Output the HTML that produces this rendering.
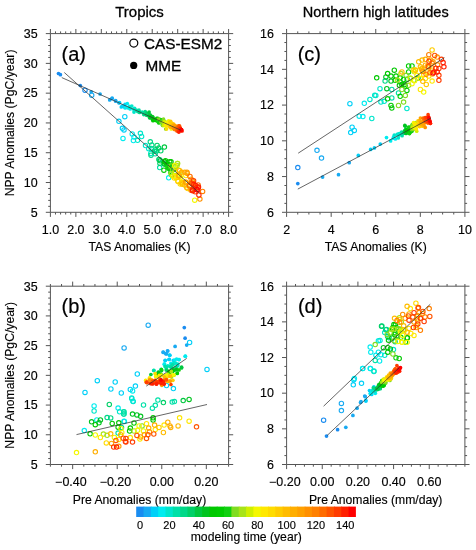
<!DOCTYPE html><html><head><meta charset="utf-8"><style>html,body{margin:0;padding:0;background:#fff;width:476px;height:550px;overflow:hidden}svg{display:block;will-change:transform}text{font-family:"Liberation Sans", sans-serif;fill:#000;stroke:#000;stroke-width:0.3px}.tk{font-size:12px;stroke-width:0.15px}.at{font-size:12.2px;stroke-width:0.15px}.ti{font-size:15px}</style></head><body>
<svg width="476" height="550" viewBox="0 0 476 550">
<path d="M50.40,33.60H228.60V212.30H50.40ZM50.40,212.30v4.6M50.40,33.60v-4.6M55.49,212.30v2.2M55.49,33.60v-2.2M60.58,212.30v2.2M60.58,33.60v-2.2M65.67,212.30v2.2M65.67,33.60v-2.2M70.77,212.30v2.2M70.77,33.60v-2.2M75.86,212.30v4.6M75.86,33.60v-4.6M80.95,212.30v2.2M80.95,33.60v-2.2M86.04,212.30v2.2M86.04,33.60v-2.2M91.13,212.30v2.2M91.13,33.60v-2.2M96.22,212.30v2.2M96.22,33.60v-2.2M101.31,212.30v4.6M101.31,33.60v-4.6M106.41,212.30v2.2M106.41,33.60v-2.2M111.50,212.30v2.2M111.50,33.60v-2.2M116.59,212.30v2.2M116.59,33.60v-2.2M121.68,212.30v2.2M121.68,33.60v-2.2M126.77,212.30v4.6M126.77,33.60v-4.6M131.86,212.30v2.2M131.86,33.60v-2.2M136.95,212.30v2.2M136.95,33.60v-2.2M142.05,212.30v2.2M142.05,33.60v-2.2M147.14,212.30v2.2M147.14,33.60v-2.2M152.23,212.30v4.6M152.23,33.60v-4.6M157.32,212.30v2.2M157.32,33.60v-2.2M162.41,212.30v2.2M162.41,33.60v-2.2M167.50,212.30v2.2M167.50,33.60v-2.2M172.59,212.30v2.2M172.59,33.60v-2.2M177.69,212.30v4.6M177.69,33.60v-4.6M182.78,212.30v2.2M182.78,33.60v-2.2M187.87,212.30v2.2M187.87,33.60v-2.2M192.96,212.30v2.2M192.96,33.60v-2.2M198.05,212.30v2.2M198.05,33.60v-2.2M203.14,212.30v4.6M203.14,33.60v-4.6M208.23,212.30v2.2M208.23,33.60v-2.2M213.33,212.30v2.2M213.33,33.60v-2.2M218.42,212.30v2.2M218.42,33.60v-2.2M223.51,212.30v2.2M223.51,33.60v-2.2M228.60,212.30v4.6M228.60,33.60v-4.6M50.40,212.30h-4.6M228.60,212.30h4.6M50.40,206.34h-2.2M228.60,206.34h2.2M50.40,200.39h-2.2M228.60,200.39h2.2M50.40,194.43h-2.2M228.60,194.43h2.2M50.40,188.47h-2.2M228.60,188.47h2.2M50.40,182.52h-4.6M228.60,182.52h4.6M50.40,176.56h-2.2M228.60,176.56h2.2M50.40,170.60h-2.2M228.60,170.60h2.2M50.40,164.65h-2.2M228.60,164.65h2.2M50.40,158.69h-2.2M228.60,158.69h2.2M50.40,152.73h-4.6M228.60,152.73h4.6M50.40,146.78h-2.2M228.60,146.78h2.2M50.40,140.82h-2.2M228.60,140.82h2.2M50.40,134.86h-2.2M228.60,134.86h2.2M50.40,128.91h-2.2M228.60,128.91h2.2M50.40,122.95h-4.6M228.60,122.95h4.6M50.40,116.99h-2.2M228.60,116.99h2.2M50.40,111.04h-2.2M228.60,111.04h2.2M50.40,105.08h-2.2M228.60,105.08h2.2M50.40,99.12h-2.2M228.60,99.12h2.2M50.40,93.17h-4.6M228.60,93.17h4.6M50.40,87.21h-2.2M228.60,87.21h2.2M50.40,81.25h-2.2M228.60,81.25h2.2M50.40,75.30h-2.2M228.60,75.30h2.2M50.40,69.34h-2.2M228.60,69.34h2.2M50.40,63.38h-4.6M228.60,63.38h4.6M50.40,57.43h-2.2M228.60,57.43h2.2M50.40,51.47h-2.2M228.60,51.47h2.2M50.40,45.51h-2.2M228.60,45.51h2.2M50.40,39.56h-2.2M228.60,39.56h2.2M50.40,33.60h-4.6M228.60,33.60h4.6" fill="none" stroke="#555" stroke-width="1"/>
<text transform="translate(50.40,234.00) scale(1.04,1)" text-anchor="middle" class="tk">1.0</text>
<text transform="translate(75.86,234.00) scale(1.04,1)" text-anchor="middle" class="tk">2.0</text>
<text transform="translate(101.31,234.00) scale(1.04,1)" text-anchor="middle" class="tk">3.0</text>
<text transform="translate(126.77,234.00) scale(1.04,1)" text-anchor="middle" class="tk">4.0</text>
<text transform="translate(152.23,234.00) scale(1.04,1)" text-anchor="middle" class="tk">5.0</text>
<text transform="translate(177.69,234.00) scale(1.04,1)" text-anchor="middle" class="tk">6.0</text>
<text transform="translate(203.14,234.00) scale(1.04,1)" text-anchor="middle" class="tk">7.0</text>
<text transform="translate(228.60,234.00) scale(1.04,1)" text-anchor="middle" class="tk">8.0</text>
<text transform="translate(37.70,216.60) scale(1.04,1)" text-anchor="end" class="tk">5</text>
<text transform="translate(37.70,186.82) scale(1.04,1)" text-anchor="end" class="tk">10</text>
<text transform="translate(37.70,157.03) scale(1.04,1)" text-anchor="end" class="tk">15</text>
<text transform="translate(37.70,127.25) scale(1.04,1)" text-anchor="end" class="tk">20</text>
<text transform="translate(37.70,97.47) scale(1.04,1)" text-anchor="end" class="tk">25</text>
<text transform="translate(37.70,67.68) scale(1.04,1)" text-anchor="end" class="tk">30</text>
<text transform="translate(37.70,37.90) scale(1.04,1)" text-anchor="end" class="tk">35</text>
<path d="M286.60,33.60H464.90V212.30H286.60ZM286.60,212.30v4.6M286.60,33.60v-4.6M297.74,212.30v2.2M297.74,33.60v-2.2M308.89,212.30v2.2M308.89,33.60v-2.2M320.03,212.30v2.2M320.03,33.60v-2.2M331.18,212.30v4.6M331.18,33.60v-4.6M342.32,212.30v2.2M342.32,33.60v-2.2M353.46,212.30v2.2M353.46,33.60v-2.2M364.61,212.30v2.2M364.61,33.60v-2.2M375.75,212.30v4.6M375.75,33.60v-4.6M386.89,212.30v2.2M386.89,33.60v-2.2M398.04,212.30v2.2M398.04,33.60v-2.2M409.18,212.30v2.2M409.18,33.60v-2.2M420.32,212.30v4.6M420.32,33.60v-4.6M431.47,212.30v2.2M431.47,33.60v-2.2M442.61,212.30v2.2M442.61,33.60v-2.2M453.76,212.30v2.2M453.76,33.60v-2.2M464.90,212.30v4.6M464.90,33.60v-4.6M286.60,212.30h-4.6M464.90,212.30h4.6M286.60,203.37h-2.2M464.90,203.37h2.2M286.60,194.43h-2.2M464.90,194.43h2.2M286.60,185.50h-2.2M464.90,185.50h2.2M286.60,176.56h-4.6M464.90,176.56h4.6M286.60,167.62h-2.2M464.90,167.62h2.2M286.60,158.69h-2.2M464.90,158.69h2.2M286.60,149.75h-2.2M464.90,149.75h2.2M286.60,140.82h-4.6M464.90,140.82h4.6M286.60,131.88h-2.2M464.90,131.88h2.2M286.60,122.95h-2.2M464.90,122.95h2.2M286.60,114.02h-2.2M464.90,114.02h2.2M286.60,105.08h-4.6M464.90,105.08h4.6M286.60,96.14h-2.2M464.90,96.14h2.2M286.60,87.21h-2.2M464.90,87.21h2.2M286.60,78.28h-2.2M464.90,78.28h2.2M286.60,69.34h-4.6M464.90,69.34h4.6M286.60,60.41h-2.2M464.90,60.41h2.2M286.60,51.47h-2.2M464.90,51.47h2.2M286.60,42.53h-2.2M464.90,42.53h2.2M286.60,33.60h-4.6M464.90,33.60h4.6" fill="none" stroke="#555" stroke-width="1"/>
<text transform="translate(286.60,234.00) scale(1.04,1)" text-anchor="middle" class="tk">2</text>
<text transform="translate(331.18,234.00) scale(1.04,1)" text-anchor="middle" class="tk">4</text>
<text transform="translate(375.75,234.00) scale(1.04,1)" text-anchor="middle" class="tk">6</text>
<text transform="translate(420.32,234.00) scale(1.04,1)" text-anchor="middle" class="tk">8</text>
<text transform="translate(464.90,234.00) scale(1.04,1)" text-anchor="middle" class="tk">10</text>
<text transform="translate(273.90,216.60) scale(1.04,1)" text-anchor="end" class="tk">6</text>
<text transform="translate(273.90,180.86) scale(1.04,1)" text-anchor="end" class="tk">8</text>
<text transform="translate(273.90,145.12) scale(1.04,1)" text-anchor="end" class="tk">10</text>
<text transform="translate(273.90,109.38) scale(1.04,1)" text-anchor="end" class="tk">12</text>
<text transform="translate(273.90,73.64) scale(1.04,1)" text-anchor="end" class="tk">14</text>
<text transform="translate(273.90,37.90) scale(1.04,1)" text-anchor="end" class="tk">16</text>
<path d="M50.40,286.20H228.60V464.50H50.40ZM50.40,464.50v2.2M50.40,286.20v-2.2M61.54,464.50v2.2M61.54,286.20v-2.2M72.67,464.50v4.6M72.67,286.20v-4.6M83.81,464.50v2.2M83.81,286.20v-2.2M94.95,464.50v2.2M94.95,286.20v-2.2M106.09,464.50v2.2M106.09,286.20v-2.2M117.22,464.50v4.6M117.22,286.20v-4.6M128.36,464.50v2.2M128.36,286.20v-2.2M139.50,464.50v2.2M139.50,286.20v-2.2M150.64,464.50v2.2M150.64,286.20v-2.2M161.78,464.50v4.6M161.78,286.20v-4.6M172.91,464.50v2.2M172.91,286.20v-2.2M184.05,464.50v2.2M184.05,286.20v-2.2M195.19,464.50v2.2M195.19,286.20v-2.2M206.32,464.50v4.6M206.32,286.20v-4.6M217.46,464.50v2.2M217.46,286.20v-2.2M228.60,464.50v2.2M228.60,286.20v-2.2M50.40,464.50h-4.6M228.60,464.50h4.6M50.40,458.56h-2.2M228.60,458.56h2.2M50.40,452.61h-2.2M228.60,452.61h2.2M50.40,446.67h-2.2M228.60,446.67h2.2M50.40,440.73h-2.2M228.60,440.73h2.2M50.40,434.78h-4.6M228.60,434.78h4.6M50.40,428.84h-2.2M228.60,428.84h2.2M50.40,422.90h-2.2M228.60,422.90h2.2M50.40,416.95h-2.2M228.60,416.95h2.2M50.40,411.01h-2.2M228.60,411.01h2.2M50.40,405.07h-4.6M228.60,405.07h4.6M50.40,399.12h-2.2M228.60,399.12h2.2M50.40,393.18h-2.2M228.60,393.18h2.2M50.40,387.24h-2.2M228.60,387.24h2.2M50.40,381.29h-2.2M228.60,381.29h2.2M50.40,375.35h-4.6M228.60,375.35h4.6M50.40,369.41h-2.2M228.60,369.41h2.2M50.40,363.46h-2.2M228.60,363.46h2.2M50.40,357.52h-2.2M228.60,357.52h2.2M50.40,351.58h-2.2M228.60,351.58h2.2M50.40,345.63h-4.6M228.60,345.63h4.6M50.40,339.69h-2.2M228.60,339.69h2.2M50.40,333.75h-2.2M228.60,333.75h2.2M50.40,327.80h-2.2M228.60,327.80h2.2M50.40,321.86h-2.2M228.60,321.86h2.2M50.40,315.92h-4.6M228.60,315.92h4.6M50.40,309.97h-2.2M228.60,309.97h2.2M50.40,304.03h-2.2M228.60,304.03h2.2M50.40,298.09h-2.2M228.60,298.09h2.2M50.40,292.14h-2.2M228.60,292.14h2.2M50.40,286.20h-4.6M228.60,286.20h4.6" fill="none" stroke="#555" stroke-width="1"/>
<text transform="translate(70.88,486.20) scale(1.04,1)" text-anchor="middle" class="tk">−0.40</text>
<text transform="translate(115.42,486.20) scale(1.04,1)" text-anchor="middle" class="tk">−0.20</text>
<text transform="translate(161.78,486.20) scale(1.04,1)" text-anchor="middle" class="tk">0.00</text>
<text transform="translate(206.32,486.20) scale(1.04,1)" text-anchor="middle" class="tk">0.20</text>
<text transform="translate(37.70,468.80) scale(1.04,1)" text-anchor="end" class="tk">5</text>
<text transform="translate(37.70,439.08) scale(1.04,1)" text-anchor="end" class="tk">10</text>
<text transform="translate(37.70,409.37) scale(1.04,1)" text-anchor="end" class="tk">15</text>
<text transform="translate(37.70,379.65) scale(1.04,1)" text-anchor="end" class="tk">20</text>
<text transform="translate(37.70,349.93) scale(1.04,1)" text-anchor="end" class="tk">25</text>
<text transform="translate(37.70,320.22) scale(1.04,1)" text-anchor="end" class="tk">30</text>
<text transform="translate(37.70,290.50) scale(1.04,1)" text-anchor="end" class="tk">35</text>
<path d="M286.60,286.20H464.90V464.50H286.60ZM286.60,464.50v4.6M286.60,286.20v-4.6M295.52,464.50v2.2M295.52,286.20v-2.2M304.43,464.50v2.2M304.43,286.20v-2.2M313.35,464.50v2.2M313.35,286.20v-2.2M322.26,464.50v4.6M322.26,286.20v-4.6M331.18,464.50v2.2M331.18,286.20v-2.2M340.09,464.50v2.2M340.09,286.20v-2.2M349.00,464.50v2.2M349.00,286.20v-2.2M357.92,464.50v4.6M357.92,286.20v-4.6M366.84,464.50v2.2M366.84,286.20v-2.2M375.75,464.50v2.2M375.75,286.20v-2.2M384.67,464.50v2.2M384.67,286.20v-2.2M393.58,464.50v4.6M393.58,286.20v-4.6M402.50,464.50v2.2M402.50,286.20v-2.2M411.41,464.50v2.2M411.41,286.20v-2.2M420.32,464.50v2.2M420.32,286.20v-2.2M429.24,464.50v4.6M429.24,286.20v-4.6M438.15,464.50v2.2M438.15,286.20v-2.2M447.07,464.50v2.2M447.07,286.20v-2.2M455.99,464.50v2.2M455.99,286.20v-2.2M464.90,464.50v2.2M464.90,286.20v-2.2M286.60,464.50h-4.6M464.90,464.50h4.6M286.60,455.58h-2.2M464.90,455.58h2.2M286.60,446.67h-2.2M464.90,446.67h2.2M286.60,437.75h-2.2M464.90,437.75h2.2M286.60,428.84h-4.6M464.90,428.84h4.6M286.60,419.93h-2.2M464.90,419.93h2.2M286.60,411.01h-2.2M464.90,411.01h2.2M286.60,402.10h-2.2M464.90,402.10h2.2M286.60,393.18h-4.6M464.90,393.18h4.6M286.60,384.26h-2.2M464.90,384.26h2.2M286.60,375.35h-2.2M464.90,375.35h2.2M286.60,366.44h-2.2M464.90,366.44h2.2M286.60,357.52h-4.6M464.90,357.52h4.6M286.60,348.61h-2.2M464.90,348.61h2.2M286.60,339.69h-2.2M464.90,339.69h2.2M286.60,330.77h-2.2M464.90,330.77h2.2M286.60,321.86h-4.6M464.90,321.86h4.6M286.60,312.94h-2.2M464.90,312.94h2.2M286.60,304.03h-2.2M464.90,304.03h2.2M286.60,295.12h-2.2M464.90,295.12h2.2M286.60,286.20h-4.6M464.90,286.20h4.6" fill="none" stroke="#555" stroke-width="1"/>
<text transform="translate(284.80,486.20) scale(1.04,1)" text-anchor="middle" class="tk">−0.20</text>
<text transform="translate(322.26,486.20) scale(1.04,1)" text-anchor="middle" class="tk">0.00</text>
<text transform="translate(357.92,486.20) scale(1.04,1)" text-anchor="middle" class="tk">0.20</text>
<text transform="translate(393.58,486.20) scale(1.04,1)" text-anchor="middle" class="tk">0.40</text>
<text transform="translate(429.24,486.20) scale(1.04,1)" text-anchor="middle" class="tk">0.60</text>
<text transform="translate(273.90,468.80) scale(1.04,1)" text-anchor="end" class="tk">6</text>
<text transform="translate(273.90,433.14) scale(1.04,1)" text-anchor="end" class="tk">8</text>
<text transform="translate(273.90,397.48) scale(1.04,1)" text-anchor="end" class="tk">10</text>
<text transform="translate(273.90,361.82) scale(1.04,1)" text-anchor="end" class="tk">12</text>
<text transform="translate(273.90,326.16) scale(1.04,1)" text-anchor="end" class="tk">14</text>
<text transform="translate(273.90,290.50) scale(1.04,1)" text-anchor="end" class="tk">16</text>
<g fill="none" stroke-width="1.1"><circle cx="85.0" cy="90.2" r="2.2" stroke="#1a8cf0"/><circle cx="91.7" cy="95.2" r="2.2" stroke="#18aaf2"/><circle cx="118.9" cy="121.3" r="2.2" stroke="#00d0f8"/><circle cx="124.8" cy="116.7" r="2.2" stroke="#00d0f8"/><circle cx="122.4" cy="128.3" r="2.2" stroke="#00d0f8"/><circle cx="124.0" cy="129.9" r="2.2" stroke="#00d0f8"/><circle cx="123.0" cy="138.4" r="2.2" stroke="#00ecf0"/><circle cx="132.2" cy="134.0" r="2.2" stroke="#00ecf0"/><circle cx="168.7" cy="177.8" r="2.2" stroke="#00ecf0"/><circle cx="134.0" cy="137.1" r="2.2" stroke="#00ecf0"/><circle cx="133.4" cy="140.5" r="2.2" stroke="#00ecf0"/><circle cx="137.6" cy="140.3" r="2.2" stroke="#00e6cc"/><circle cx="140.4" cy="133.3" r="2.2" stroke="#00e6cc"/><circle cx="141.6" cy="136.5" r="2.2" stroke="#00e6cc"/><circle cx="148.7" cy="148.7" r="2.2" stroke="#00e6cc"/><circle cx="150.8" cy="153.4" r="2.2" stroke="#00e6cc"/><circle cx="145.5" cy="145.6" r="2.2" stroke="#00e6cc"/><circle cx="151.2" cy="148.6" r="2.2" stroke="#00e0a8"/><circle cx="159.7" cy="159.7" r="2.2" stroke="#00e0a8"/><circle cx="159.7" cy="167.6" r="2.2" stroke="#00e0a8"/><circle cx="155.2" cy="153.8" r="2.2" stroke="#00e0a8"/><circle cx="151.0" cy="155.2" r="2.2" stroke="#00d888"/><circle cx="150.3" cy="141.8" r="2.2" stroke="#00d888"/><circle cx="151.8" cy="145.0" r="2.2" stroke="#00d888"/><circle cx="155.5" cy="149.7" r="2.2" stroke="#00d888"/><circle cx="156.6" cy="151.1" r="2.2" stroke="#00d888"/><circle cx="154.4" cy="151.3" r="2.2" stroke="#00d888"/><circle cx="158.9" cy="159.4" r="2.2" stroke="#00d068"/><circle cx="157.1" cy="145.5" r="2.2" stroke="#00d068"/><circle cx="158.7" cy="148.1" r="2.2" stroke="#00d068"/><circle cx="160.8" cy="150.8" r="2.2" stroke="#00d068"/><circle cx="159.9" cy="163.2" r="2.2" stroke="#00d068"/><circle cx="164.3" cy="163.7" r="2.2" stroke="#00c840"/><circle cx="164.4" cy="147.1" r="2.2" stroke="#00c840"/><circle cx="164.5" cy="164.0" r="2.2" stroke="#00c840"/><circle cx="160.3" cy="160.8" r="2.2" stroke="#00c840"/><circle cx="164.5" cy="161.4" r="2.2" stroke="#00c420"/><circle cx="169.2" cy="168.5" r="2.2" stroke="#00c420"/><circle cx="164.9" cy="162.2" r="2.2" stroke="#00c800"/><circle cx="165.5" cy="160.7" r="2.2" stroke="#00c800"/><circle cx="167.1" cy="165.5" r="2.2" stroke="#00c800"/><circle cx="171.0" cy="161.8" r="2.2" stroke="#00c800"/><circle cx="173.6" cy="169.4" r="2.2" stroke="#00c800"/><circle cx="168.9" cy="167.8" r="2.2" stroke="#00c800"/><circle cx="169.1" cy="168.0" r="2.2" stroke="#00cc00"/><circle cx="169.7" cy="161.8" r="2.2" stroke="#00cc00"/><circle cx="163.9" cy="170.2" r="2.2" stroke="#00cc00"/><circle cx="172.1" cy="175.0" r="2.2" stroke="#00cc00"/><circle cx="175.3" cy="176.0" r="2.2" stroke="#00cc00"/><circle cx="168.9" cy="164.6" r="2.2" stroke="#00cc00"/><circle cx="170.4" cy="166.2" r="2.2" stroke="#10d010"/><circle cx="170.7" cy="167.6" r="2.2" stroke="#10d010"/><circle cx="170.9" cy="172.4" r="2.2" stroke="#10d010"/><circle cx="168.7" cy="167.4" r="2.2" stroke="#10d010"/><circle cx="171.1" cy="165.9" r="2.2" stroke="#80dc20"/><circle cx="172.7" cy="169.7" r="2.2" stroke="#80dc20"/><circle cx="177.0" cy="165.4" r="2.2" stroke="#a8e418"/><circle cx="177.6" cy="163.4" r="2.2" stroke="#a8e418"/><circle cx="175.5" cy="166.5" r="2.2" stroke="#a8e418"/><circle cx="177.4" cy="163.4" r="2.2" stroke="#a8e418"/><circle cx="179.1" cy="174.3" r="2.2" stroke="#a8e418"/><circle cx="171.2" cy="174.1" r="2.2" stroke="#a8e418"/><circle cx="175.2" cy="171.4" r="2.2" stroke="#d0f000"/><circle cx="176.1" cy="177.7" r="2.2" stroke="#d0f000"/><circle cx="172.8" cy="176.0" r="2.2" stroke="#f4f800"/><circle cx="174.7" cy="165.5" r="2.2" stroke="#f4f800"/><circle cx="180.5" cy="177.6" r="2.2" stroke="#f4f800"/><circle cx="194.7" cy="200.2" r="2.2" stroke="#f4f800"/><circle cx="179.7" cy="176.3" r="2.2" stroke="#f4f800"/><circle cx="181.9" cy="182.4" r="2.2" stroke="#f4f800"/><circle cx="174.6" cy="176.4" r="2.2" stroke="#ffe800"/><circle cx="185.8" cy="175.5" r="2.2" stroke="#ffe800"/><circle cx="187.9" cy="188.6" r="2.2" stroke="#ffe800"/><circle cx="177.8" cy="180.8" r="2.2" stroke="#ffe800"/><circle cx="174.3" cy="178.0" r="2.2" stroke="#ffdc00"/><circle cx="182.6" cy="182.3" r="2.2" stroke="#ffdc00"/><circle cx="181.5" cy="183.3" r="2.2" stroke="#ffdc00"/><circle cx="180.3" cy="184.1" r="2.2" stroke="#ffdc00"/><circle cx="183.0" cy="182.9" r="2.2" stroke="#ffcc00"/><circle cx="178.0" cy="181.4" r="2.2" stroke="#ffcc00"/><circle cx="184.6" cy="184.9" r="2.2" stroke="#ffbc00"/><circle cx="178.9" cy="170.2" r="2.2" stroke="#ffbc00"/><circle cx="179.7" cy="170.7" r="2.2" stroke="#ffbc00"/><circle cx="182.4" cy="184.2" r="2.2" stroke="#ffbc00"/><circle cx="178.5" cy="175.5" r="2.2" stroke="#ffbc00"/><circle cx="179.3" cy="176.0" r="2.2" stroke="#ffae00"/><circle cx="181.6" cy="172.3" r="2.2" stroke="#ffae00"/><circle cx="184.7" cy="172.3" r="2.2" stroke="#ffae00"/><circle cx="186.3" cy="182.8" r="2.2" stroke="#ffae00"/><circle cx="186.8" cy="187.7" r="2.2" stroke="#ffae00"/><circle cx="185.6" cy="182.1" r="2.2" stroke="#ffa000"/><circle cx="187.3" cy="173.4" r="2.2" stroke="#ffa000"/><circle cx="189.4" cy="186.5" r="2.2" stroke="#ffa000"/><circle cx="191.0" cy="190.2" r="2.2" stroke="#ffa000"/><circle cx="187.0" cy="172.3" r="2.2" stroke="#ffa000"/><circle cx="191.2" cy="179.2" r="2.2" stroke="#ffa000"/><circle cx="192.3" cy="183.4" r="2.2" stroke="#ffa000"/><circle cx="192.5" cy="180.9" r="2.2" stroke="#ff9000"/><circle cx="199.9" cy="199.1" r="2.2" stroke="#ff9000"/><circle cx="191.3" cy="182.8" r="2.2" stroke="#ff9000"/><circle cx="195.1" cy="186.8" r="2.2" stroke="#ff8000"/><circle cx="202.6" cy="191.4" r="2.2" stroke="#ff8000"/><circle cx="192.7" cy="183.7" r="2.2" stroke="#ff8000"/><circle cx="189.5" cy="185.5" r="2.2" stroke="#ff6c00"/><circle cx="190.0" cy="176.5" r="2.2" stroke="#ff6c00"/><circle cx="198.1" cy="184.9" r="2.2" stroke="#ff6c00"/><circle cx="193.7" cy="188.2" r="2.2" stroke="#ff5400"/><circle cx="191.7" cy="183.4" r="2.2" stroke="#ff5400"/><circle cx="192.0" cy="190.2" r="2.2" stroke="#ff5400"/><circle cx="198.2" cy="187.6" r="2.2" stroke="#ff3c00"/><circle cx="193.6" cy="180.7" r="2.2" stroke="#ff3c00"/><circle cx="195.2" cy="191.8" r="2.2" stroke="#ff3c00"/><circle cx="192.6" cy="189.4" r="2.2" stroke="#ff3c00"/><circle cx="192.7" cy="190.7" r="2.2" stroke="#ff2000"/><circle cx="195.7" cy="185.5" r="2.2" stroke="#ff2000"/><circle cx="197.8" cy="189.7" r="2.2" stroke="#ff2000"/><circle cx="198.9" cy="195.0" r="2.2" stroke="#ff2000"/><circle cx="193.9" cy="184.3" r="2.2" stroke="#ff2000"/><circle cx="198.5" cy="186.9" r="2.2" stroke="#ff2000"/><circle cx="196.9" cy="189.7" r="2.2" stroke="#ff0000"/></g>
<g><circle cx="58.5" cy="73.5" r="1.85" fill="#1a8cf0"/><circle cx="60.4" cy="74.7" r="1.85" fill="#1a8cf0"/><circle cx="80.3" cy="85.5" r="1.85" fill="#1a8cf0"/><circle cx="91.2" cy="91.8" r="1.85" fill="#18aaf2"/><circle cx="100.1" cy="94.0" r="1.85" fill="#18aaf2"/><circle cx="109.7" cy="99.9" r="1.85" fill="#18aaf2"/><circle cx="112.2" cy="98.2" r="1.85" fill="#18aaf2"/><circle cx="111.9" cy="98.6" r="1.85" fill="#18aaf2"/><circle cx="115.5" cy="101.1" r="1.85" fill="#18aaf2"/><circle cx="115.7" cy="100.7" r="1.85" fill="#18aaf2"/><circle cx="118.9" cy="102.8" r="1.85" fill="#18aaf2"/><circle cx="119.5" cy="102.6" r="1.85" fill="#00d0f8"/><circle cx="122.3" cy="106.1" r="1.85" fill="#00d0f8"/><circle cx="121.3" cy="107.0" r="1.85" fill="#00d0f8"/><circle cx="124.8" cy="107.0" r="1.85" fill="#00d0f8"/><circle cx="124.9" cy="107.0" r="1.85" fill="#00d0f8"/><circle cx="125.0" cy="104.4" r="1.85" fill="#00d0f8"/><circle cx="125.2" cy="108.0" r="1.85" fill="#00ecf0"/><circle cx="127.3" cy="103.6" r="1.85" fill="#00ecf0"/><circle cx="129.5" cy="106.4" r="1.85" fill="#00ecf0"/><circle cx="130.2" cy="108.9" r="1.85" fill="#00ecf0"/><circle cx="128.2" cy="108.0" r="1.85" fill="#00ecf0"/><circle cx="129.9" cy="107.1" r="1.85" fill="#00e6cc"/><circle cx="134.6" cy="108.3" r="1.85" fill="#00e6cc"/><circle cx="134.0" cy="112.1" r="1.85" fill="#00e6cc"/><circle cx="131.8" cy="106.1" r="1.85" fill="#00e6cc"/><circle cx="133.8" cy="109.3" r="1.85" fill="#00e6cc"/><circle cx="137.7" cy="111.6" r="1.85" fill="#00e0a8"/><circle cx="139.0" cy="110.2" r="1.85" fill="#00e0a8"/><circle cx="142.2" cy="112.1" r="1.85" fill="#00e0a8"/><circle cx="136.8" cy="110.4" r="1.85" fill="#00e0a8"/><circle cx="139.6" cy="112.4" r="1.85" fill="#00d888"/><circle cx="144.7" cy="113.3" r="1.85" fill="#00d888"/><circle cx="145.2" cy="111.6" r="1.85" fill="#00d888"/><circle cx="143.8" cy="114.6" r="1.85" fill="#00d888"/><circle cx="146.8" cy="113.4" r="1.85" fill="#00d068"/><circle cx="146.6" cy="115.2" r="1.85" fill="#00d068"/><circle cx="149.0" cy="115.0" r="1.85" fill="#00d068"/><circle cx="147.5" cy="115.5" r="1.85" fill="#00d068"/><circle cx="149.0" cy="114.8" r="1.85" fill="#00d068"/><circle cx="149.3" cy="116.0" r="1.85" fill="#00c840"/><circle cx="149.6" cy="117.8" r="1.85" fill="#00c840"/><circle cx="149.1" cy="112.1" r="1.85" fill="#00c840"/><circle cx="150.4" cy="115.2" r="1.85" fill="#00c840"/><circle cx="149.6" cy="115.3" r="1.85" fill="#00c840"/><circle cx="150.3" cy="117.4" r="1.85" fill="#00c840"/><circle cx="152.5" cy="117.1" r="1.85" fill="#00c840"/><circle cx="151.0" cy="117.7" r="1.85" fill="#00c420"/><circle cx="151.3" cy="117.4" r="1.85" fill="#00c420"/><circle cx="152.9" cy="117.1" r="1.85" fill="#00c420"/><circle cx="154.1" cy="119.6" r="1.85" fill="#00c420"/><circle cx="152.1" cy="116.6" r="1.85" fill="#00c420"/><circle cx="150.8" cy="116.4" r="1.85" fill="#00c420"/><circle cx="152.5" cy="119.8" r="1.85" fill="#00c420"/><circle cx="153.8" cy="119.8" r="1.85" fill="#00c800"/><circle cx="154.2" cy="119.4" r="1.85" fill="#00c800"/><circle cx="156.7" cy="118.4" r="1.85" fill="#00c800"/><circle cx="153.8" cy="119.4" r="1.85" fill="#00c800"/><circle cx="157.1" cy="119.3" r="1.85" fill="#00c800"/><circle cx="153.0" cy="120.7" r="1.85" fill="#00c800"/><circle cx="155.3" cy="120.3" r="1.85" fill="#00cc00"/><circle cx="157.8" cy="118.4" r="1.85" fill="#00cc00"/><circle cx="158.5" cy="120.9" r="1.85" fill="#00cc00"/><circle cx="160.4" cy="119.6" r="1.85" fill="#00cc00"/><circle cx="158.9" cy="123.0" r="1.85" fill="#00cc00"/><circle cx="156.8" cy="120.7" r="1.85" fill="#00cc00"/><circle cx="158.1" cy="118.9" r="1.85" fill="#00cc00"/><circle cx="157.6" cy="120.5" r="1.85" fill="#10d010"/><circle cx="159.7" cy="121.9" r="1.85" fill="#10d010"/><circle cx="161.7" cy="122.8" r="1.85" fill="#10d010"/><circle cx="160.6" cy="119.5" r="1.85" fill="#10d010"/><circle cx="162.5" cy="125.2" r="1.85" fill="#10d010"/><circle cx="158.4" cy="122.2" r="1.85" fill="#10d010"/><circle cx="158.0" cy="121.3" r="1.85" fill="#10d010"/><circle cx="161.7" cy="121.3" r="1.85" fill="#10d010"/><circle cx="158.5" cy="119.1" r="1.85" fill="#80dc20"/><circle cx="161.0" cy="122.2" r="1.85" fill="#80dc20"/><circle cx="165.7" cy="129.0" r="1.85" fill="#80dc20"/><circle cx="164.2" cy="121.4" r="1.85" fill="#80dc20"/><circle cx="161.7" cy="122.7" r="1.85" fill="#80dc20"/><circle cx="163.5" cy="119.2" r="1.85" fill="#80dc20"/><circle cx="162.9" cy="125.6" r="1.85" fill="#a8e418"/><circle cx="165.4" cy="122.1" r="1.85" fill="#a8e418"/><circle cx="165.0" cy="122.0" r="1.85" fill="#a8e418"/><circle cx="163.3" cy="122.8" r="1.85" fill="#a8e418"/><circle cx="167.4" cy="125.2" r="1.85" fill="#a8e418"/><circle cx="163.9" cy="125.0" r="1.85" fill="#a8e418"/><circle cx="163.8" cy="125.3" r="1.85" fill="#d0f000"/><circle cx="164.5" cy="122.3" r="1.85" fill="#d0f000"/><circle cx="165.5" cy="122.2" r="1.85" fill="#d0f000"/><circle cx="165.7" cy="125.6" r="1.85" fill="#d0f000"/><circle cx="166.5" cy="124.3" r="1.85" fill="#d0f000"/><circle cx="164.0" cy="121.8" r="1.85" fill="#d0f000"/><circle cx="165.8" cy="122.8" r="1.85" fill="#f4f800"/><circle cx="167.7" cy="123.9" r="1.85" fill="#f4f800"/><circle cx="167.4" cy="124.0" r="1.85" fill="#f4f800"/><circle cx="168.6" cy="120.9" r="1.85" fill="#f4f800"/><circle cx="171.3" cy="129.0" r="1.85" fill="#f4f800"/><circle cx="168.0" cy="124.7" r="1.85" fill="#f4f800"/><circle cx="166.8" cy="124.2" r="1.85" fill="#f4f800"/><circle cx="167.7" cy="125.6" r="1.85" fill="#f4f800"/><circle cx="167.4" cy="123.9" r="1.85" fill="#ffe800"/><circle cx="165.5" cy="125.7" r="1.85" fill="#ffe800"/><circle cx="168.8" cy="122.0" r="1.85" fill="#ffe800"/><circle cx="170.6" cy="125.4" r="1.85" fill="#ffe800"/><circle cx="168.8" cy="123.1" r="1.85" fill="#ffe800"/><circle cx="169.2" cy="125.4" r="1.85" fill="#ffe800"/><circle cx="172.3" cy="126.8" r="1.85" fill="#ffdc00"/><circle cx="169.9" cy="121.9" r="1.85" fill="#ffdc00"/><circle cx="171.8" cy="126.5" r="1.85" fill="#ffdc00"/><circle cx="168.0" cy="124.8" r="1.85" fill="#ffdc00"/><circle cx="166.6" cy="128.9" r="1.85" fill="#ffdc00"/><circle cx="172.1" cy="127.2" r="1.85" fill="#ffcc00"/><circle cx="172.1" cy="123.3" r="1.85" fill="#ffcc00"/><circle cx="170.7" cy="121.4" r="1.85" fill="#ffcc00"/><circle cx="172.1" cy="124.2" r="1.85" fill="#ffcc00"/><circle cx="173.7" cy="124.0" r="1.85" fill="#ffcc00"/><circle cx="170.2" cy="127.3" r="1.85" fill="#ffcc00"/><circle cx="175.3" cy="126.1" r="1.85" fill="#ffbc00"/><circle cx="170.1" cy="126.7" r="1.85" fill="#ffbc00"/><circle cx="174.7" cy="126.1" r="1.85" fill="#ffbc00"/><circle cx="172.6" cy="125.6" r="1.85" fill="#ffbc00"/><circle cx="172.1" cy="125.4" r="1.85" fill="#ffbc00"/><circle cx="175.0" cy="128.6" r="1.85" fill="#ffae00"/><circle cx="176.7" cy="128.3" r="1.85" fill="#ffae00"/><circle cx="175.1" cy="125.8" r="1.85" fill="#ffae00"/><circle cx="174.3" cy="125.9" r="1.85" fill="#ffae00"/><circle cx="174.7" cy="125.6" r="1.85" fill="#ffae00"/><circle cx="171.6" cy="127.1" r="1.85" fill="#ffae00"/><circle cx="176.1" cy="129.3" r="1.85" fill="#ffa000"/><circle cx="176.5" cy="128.7" r="1.85" fill="#ffa000"/><circle cx="176.4" cy="129.6" r="1.85" fill="#ffa000"/><circle cx="174.0" cy="127.3" r="1.85" fill="#ffa000"/><circle cx="175.3" cy="126.2" r="1.85" fill="#ffa000"/><circle cx="173.9" cy="125.0" r="1.85" fill="#ffa000"/><circle cx="175.5" cy="128.1" r="1.85" fill="#ff9000"/><circle cx="174.4" cy="129.4" r="1.85" fill="#ff9000"/><circle cx="175.9" cy="128.9" r="1.85" fill="#ff9000"/><circle cx="178.3" cy="127.9" r="1.85" fill="#ff9000"/><circle cx="173.3" cy="128.0" r="1.85" fill="#ff9000"/><circle cx="175.0" cy="129.5" r="1.85" fill="#ff8000"/><circle cx="176.7" cy="129.8" r="1.85" fill="#ff8000"/><circle cx="179.1" cy="126.5" r="1.85" fill="#ff8000"/><circle cx="178.5" cy="128.2" r="1.85" fill="#ff8000"/><circle cx="176.6" cy="127.7" r="1.85" fill="#ff8000"/><circle cx="178.2" cy="130.3" r="1.85" fill="#ff6c00"/><circle cx="180.1" cy="127.5" r="1.85" fill="#ff6c00"/><circle cx="178.4" cy="125.8" r="1.85" fill="#ff6c00"/><circle cx="177.7" cy="129.7" r="1.85" fill="#ff6c00"/><circle cx="177.2" cy="129.0" r="1.85" fill="#ff6c00"/><circle cx="178.4" cy="130.6" r="1.85" fill="#ff5400"/><circle cx="178.1" cy="127.8" r="1.85" fill="#ff5400"/><circle cx="179.5" cy="125.8" r="1.85" fill="#ff5400"/><circle cx="177.0" cy="131.0" r="1.85" fill="#ff5400"/><circle cx="180.8" cy="130.0" r="1.85" fill="#ff5400"/><circle cx="179.6" cy="129.9" r="1.85" fill="#ff5400"/><circle cx="180.0" cy="129.5" r="1.85" fill="#ff3c00"/><circle cx="180.0" cy="128.1" r="1.85" fill="#ff3c00"/><circle cx="180.2" cy="130.2" r="1.85" fill="#ff3c00"/><circle cx="178.3" cy="131.4" r="1.85" fill="#ff3c00"/><circle cx="180.9" cy="130.3" r="1.85" fill="#ff3c00"/><circle cx="180.1" cy="130.0" r="1.85" fill="#ff3c00"/><circle cx="181.4" cy="129.6" r="1.85" fill="#ff2000"/><circle cx="180.9" cy="130.6" r="1.85" fill="#ff2000"/><circle cx="182.1" cy="130.9" r="1.85" fill="#ff2000"/><circle cx="178.9" cy="132.1" r="1.85" fill="#ff2000"/><circle cx="180.4" cy="128.9" r="1.85" fill="#ff2000"/><circle cx="180.4" cy="128.5" r="1.85" fill="#ff2000"/><circle cx="181.6" cy="129.7" r="1.85" fill="#ff0000"/><circle cx="180.9" cy="130.4" r="1.85" fill="#ff0000"/></g>
<line x1="64.3" y1="72.5" x2="199.7" y2="193.3" stroke="#333" stroke-width="0.75"/>
<line x1="61.8" y1="77.6" x2="180.8" y2="130.2" stroke="#333" stroke-width="0.75"/>
<g fill="none" stroke-width="1.1"><circle cx="297.8" cy="167.6" r="2.2" stroke="#1a8cf0"/><circle cx="317.0" cy="150.3" r="2.2" stroke="#18aaf2"/><circle cx="321.5" cy="158.1" r="2.2" stroke="#18aaf2"/><circle cx="349.9" cy="103.7" r="2.2" stroke="#00d0f8"/><circle cx="352.1" cy="127.2" r="2.2" stroke="#00d0f8"/><circle cx="354.3" cy="130.4" r="2.2" stroke="#00d0f8"/><circle cx="350.7" cy="132.6" r="2.2" stroke="#00d0f8"/><circle cx="359.2" cy="116.2" r="2.2" stroke="#00ecf0"/><circle cx="362.9" cy="116.6" r="2.2" stroke="#00ecf0"/><circle cx="364.3" cy="103.3" r="2.2" stroke="#00ecf0"/><circle cx="369.9" cy="99.4" r="2.2" stroke="#00e6cc"/><circle cx="374.7" cy="95.3" r="2.2" stroke="#00e6cc"/><circle cx="380.0" cy="88.7" r="2.2" stroke="#00e6cc"/><circle cx="380.9" cy="102.1" r="2.2" stroke="#00e6cc"/><circle cx="384.2" cy="101.3" r="2.2" stroke="#00e6cc"/><circle cx="406.9" cy="108.5" r="2.2" stroke="#00e6cc"/><circle cx="375.8" cy="95.4" r="2.2" stroke="#00e6cc"/><circle cx="371.8" cy="118.5" r="2.2" stroke="#00e6cc"/><circle cx="398.5" cy="92.9" r="2.2" stroke="#00e0a8"/><circle cx="391.8" cy="89.5" r="2.2" stroke="#00e0a8"/><circle cx="391.8" cy="97.9" r="2.2" stroke="#00e0a8"/><circle cx="385.1" cy="81.1" r="2.2" stroke="#00d888"/><circle cx="385.9" cy="76.9" r="2.2" stroke="#00c420"/><circle cx="391.0" cy="81.1" r="2.2" stroke="#00c420"/><circle cx="386.8" cy="88.7" r="2.2" stroke="#00c420"/><circle cx="394.3" cy="70.2" r="2.2" stroke="#00c800"/><circle cx="387.6" cy="73.6" r="2.2" stroke="#00c800"/><circle cx="391.0" cy="76.1" r="2.2" stroke="#00c800"/><circle cx="396.0" cy="76.1" r="2.2" stroke="#00c800"/><circle cx="395.2" cy="80.3" r="2.2" stroke="#00c800"/><circle cx="400.2" cy="77.8" r="2.2" stroke="#00c800"/><circle cx="399.4" cy="85.3" r="2.2" stroke="#00c800"/><circle cx="376.7" cy="77.8" r="2.2" stroke="#00c800"/><circle cx="387.6" cy="98.8" r="2.2" stroke="#00c800"/><circle cx="391.0" cy="105.5" r="2.2" stroke="#00c800"/><circle cx="391.8" cy="108.0" r="2.2" stroke="#00c800"/><circle cx="401.8" cy="84.6" r="2.2" stroke="#00c800"/><circle cx="418.0" cy="78.1" r="2.2" stroke="#00cc00"/><circle cx="408.6" cy="66.0" r="2.2" stroke="#00cc00"/><circle cx="412.0" cy="66.0" r="2.2" stroke="#00cc00"/><circle cx="403.6" cy="79.5" r="2.2" stroke="#00cc00"/><circle cx="408.6" cy="71.9" r="2.2" stroke="#00cc00"/><circle cx="404.4" cy="84.5" r="2.2" stroke="#00cc00"/><circle cx="406.9" cy="90.4" r="2.2" stroke="#00cc00"/><circle cx="400.2" cy="96.3" r="2.2" stroke="#00cc00"/><circle cx="405.1" cy="86.1" r="2.2" stroke="#00cc00"/><circle cx="400.2" cy="82.0" r="2.2" stroke="#10d010"/><circle cx="407.1" cy="79.2" r="2.2" stroke="#10d010"/><circle cx="406.1" cy="75.3" r="2.2" stroke="#80dc20"/><circle cx="408.6" cy="85.3" r="2.2" stroke="#80dc20"/><circle cx="401.9" cy="89.5" r="2.2" stroke="#80dc20"/><circle cx="405.3" cy="95.4" r="2.2" stroke="#80dc20"/><circle cx="398.5" cy="105.5" r="2.2" stroke="#80dc20"/><circle cx="403.6" cy="102.1" r="2.2" stroke="#80dc20"/><circle cx="410.4" cy="78.5" r="2.2" stroke="#80dc20"/><circle cx="397.4" cy="80.1" r="2.2" stroke="#a8e418"/><circle cx="413.7" cy="80.3" r="2.2" stroke="#a8e418"/><circle cx="400.9" cy="73.6" r="2.2" stroke="#a8e418"/><circle cx="410.4" cy="78.0" r="2.2" stroke="#d0f000"/><circle cx="414.4" cy="71.8" r="2.2" stroke="#d0f000"/><circle cx="423.7" cy="92.1" r="2.2" stroke="#f4f800"/><circle cx="412.0" cy="83.7" r="2.2" stroke="#f4f800"/><circle cx="414.6" cy="80.7" r="2.2" stroke="#f4f800"/><circle cx="415.5" cy="70.1" r="2.2" stroke="#ffe800"/><circle cx="432.1" cy="81.1" r="2.2" stroke="#ffe800"/><circle cx="423.7" cy="74.4" r="2.2" stroke="#ffe800"/><circle cx="425.4" cy="78.6" r="2.2" stroke="#ffe800"/><circle cx="420.4" cy="78.6" r="2.2" stroke="#ffe800"/><circle cx="417.0" cy="75.3" r="2.2" stroke="#ffe800"/><circle cx="420.4" cy="89.5" r="2.2" stroke="#ffe800"/><circle cx="421.3" cy="68.8" r="2.2" stroke="#ffe800"/><circle cx="422.0" cy="70.4" r="2.2" stroke="#ffdc00"/><circle cx="427.1" cy="71.9" r="2.2" stroke="#ffdc00"/><circle cx="428.8" cy="76.1" r="2.2" stroke="#ffdc00"/><circle cx="413.4" cy="70.1" r="2.2" stroke="#ffdc00"/><circle cx="432.1" cy="50.0" r="2.2" stroke="#ffcc00"/><circle cx="432.1" cy="70.2" r="2.2" stroke="#ffcc00"/><circle cx="426.3" cy="84.4" r="2.2" stroke="#ffcc00"/><circle cx="422.8" cy="81.3" r="2.2" stroke="#ffbc00"/><circle cx="422.1" cy="60.1" r="2.2" stroke="#ffbc00"/><circle cx="418.7" cy="61.8" r="2.2" stroke="#ffbc00"/><circle cx="420.4" cy="66.8" r="2.2" stroke="#ffbc00"/><circle cx="415.3" cy="70.2" r="2.2" stroke="#ffbc00"/><circle cx="401.9" cy="71.9" r="2.2" stroke="#ffbc00"/><circle cx="427.1" cy="66.5" r="2.2" stroke="#ffbc00"/><circle cx="432.5" cy="74.1" r="2.2" stroke="#ffae00"/><circle cx="430.5" cy="60.1" r="2.2" stroke="#ffae00"/><circle cx="425.4" cy="59.3" r="2.2" stroke="#ffae00"/><circle cx="425.4" cy="65.2" r="2.2" stroke="#ffae00"/><circle cx="422.0" cy="69.0" r="2.2" stroke="#ffae00"/><circle cx="437.2" cy="57.1" r="2.2" stroke="#ffa000"/><circle cx="433.0" cy="61.8" r="2.2" stroke="#ffa000"/><circle cx="428.8" cy="66.8" r="2.2" stroke="#ffa000"/><circle cx="431.9" cy="68.0" r="2.2" stroke="#ffa000"/><circle cx="437.6" cy="64.8" r="2.2" stroke="#ff9000"/><circle cx="422.9" cy="71.4" r="2.2" stroke="#ff9000"/><circle cx="426.1" cy="74.3" r="2.2" stroke="#ff8000"/><circle cx="428.8" cy="54.7" r="2.2" stroke="#ff8000"/><circle cx="432.1" cy="63.1" r="2.2" stroke="#ff8000"/><circle cx="429.9" cy="72.7" r="2.2" stroke="#ff6c00"/><circle cx="434.2" cy="72.0" r="2.2" stroke="#ff5400"/><circle cx="434.7" cy="55.4" r="2.2" stroke="#ff5400"/><circle cx="428.3" cy="66.5" r="2.2" stroke="#ff5400"/><circle cx="429.0" cy="61.2" r="2.2" stroke="#ff3c00"/><circle cx="441.4" cy="59.3" r="2.2" stroke="#ff3c00"/><circle cx="438.9" cy="68.5" r="2.2" stroke="#ff3c00"/><circle cx="438.9" cy="75.3" r="2.2" stroke="#ff3c00"/><circle cx="438.9" cy="80.3" r="2.2" stroke="#ff3c00"/><circle cx="443.1" cy="62.6" r="2.2" stroke="#ff2000"/><circle cx="443.9" cy="66.8" r="2.2" stroke="#ff2000"/><circle cx="437.2" cy="71.9" r="2.2" stroke="#ff2000"/><circle cx="435.9" cy="68.2" r="2.2" stroke="#ff2000"/><circle cx="433.1" cy="72.9" r="2.2" stroke="#ff0000"/></g>
<g><circle cx="297.8" cy="183.6" r="1.85" fill="#1a8cf0"/><circle cx="322.6" cy="177.1" r="1.85" fill="#18aaf2"/><circle cx="338.5" cy="174.7" r="1.85" fill="#18aaf2"/><circle cx="349.2" cy="162.7" r="1.85" fill="#18aaf2"/><circle cx="358.3" cy="155.4" r="1.85" fill="#00d0f8"/><circle cx="370.7" cy="149.4" r="1.85" fill="#00d0f8"/><circle cx="374.4" cy="147.9" r="1.85" fill="#00d0f8"/><circle cx="380.3" cy="144.1" r="1.85" fill="#00d0f8"/><circle cx="386.5" cy="137.6" r="1.85" fill="#00ecf0"/><circle cx="390.6" cy="140.9" r="1.85" fill="#00ecf0"/><circle cx="393.2" cy="138.2" r="1.85" fill="#00ecf0"/><circle cx="395.4" cy="138.9" r="1.85" fill="#00ecf0"/><circle cx="393.7" cy="136.8" r="1.85" fill="#00ecf0"/><circle cx="394.3" cy="135.0" r="1.85" fill="#00e6cc"/><circle cx="398.3" cy="137.9" r="1.85" fill="#00e6cc"/><circle cx="398.3" cy="134.0" r="1.85" fill="#00e6cc"/><circle cx="397.2" cy="134.3" r="1.85" fill="#00e6cc"/><circle cx="399.0" cy="135.1" r="1.85" fill="#00e6cc"/><circle cx="402.1" cy="133.5" r="1.85" fill="#00e6cc"/><circle cx="399.4" cy="133.5" r="1.85" fill="#00e6cc"/><circle cx="401.1" cy="133.8" r="1.85" fill="#00e6cc"/><circle cx="402.3" cy="132.5" r="1.85" fill="#00e0a8"/><circle cx="401.6" cy="132.1" r="1.85" fill="#00e0a8"/><circle cx="403.4" cy="133.2" r="1.85" fill="#00e0a8"/><circle cx="402.1" cy="135.7" r="1.85" fill="#00e0a8"/><circle cx="406.2" cy="131.3" r="1.85" fill="#00e0a8"/><circle cx="404.9" cy="130.7" r="1.85" fill="#00e0a8"/><circle cx="405.7" cy="131.9" r="1.85" fill="#00e0a8"/><circle cx="403.9" cy="132.5" r="1.85" fill="#00d888"/><circle cx="405.9" cy="131.1" r="1.85" fill="#00d888"/><circle cx="407.2" cy="132.8" r="1.85" fill="#00d888"/><circle cx="408.3" cy="132.4" r="1.85" fill="#00d888"/><circle cx="404.0" cy="133.0" r="1.85" fill="#00d888"/><circle cx="405.3" cy="133.1" r="1.85" fill="#00d068"/><circle cx="406.1" cy="131.7" r="1.85" fill="#00d068"/><circle cx="406.3" cy="130.5" r="1.85" fill="#00d068"/><circle cx="406.0" cy="130.5" r="1.85" fill="#00d068"/><circle cx="408.9" cy="129.3" r="1.85" fill="#00d068"/><circle cx="405.7" cy="129.3" r="1.85" fill="#00c840"/><circle cx="404.5" cy="131.2" r="1.85" fill="#00c840"/><circle cx="405.3" cy="126.2" r="1.85" fill="#00c840"/><circle cx="408.8" cy="131.6" r="1.85" fill="#00c840"/><circle cx="407.1" cy="129.6" r="1.85" fill="#00c840"/><circle cx="409.0" cy="127.7" r="1.85" fill="#00c840"/><circle cx="407.0" cy="132.0" r="1.85" fill="#00c420"/><circle cx="406.8" cy="131.6" r="1.85" fill="#00c420"/><circle cx="406.0" cy="133.5" r="1.85" fill="#00c420"/><circle cx="409.3" cy="129.6" r="1.85" fill="#00c420"/><circle cx="408.8" cy="130.1" r="1.85" fill="#00c420"/><circle cx="404.8" cy="125.4" r="1.85" fill="#00c420"/><circle cx="407.1" cy="130.9" r="1.85" fill="#00c800"/><circle cx="406.2" cy="130.2" r="1.85" fill="#00c800"/><circle cx="408.2" cy="131.3" r="1.85" fill="#00c800"/><circle cx="410.5" cy="131.9" r="1.85" fill="#00c800"/><circle cx="407.0" cy="129.8" r="1.85" fill="#00c800"/><circle cx="410.2" cy="130.4" r="1.85" fill="#00c800"/><circle cx="409.5" cy="133.6" r="1.85" fill="#00cc00"/><circle cx="409.8" cy="131.8" r="1.85" fill="#00cc00"/><circle cx="411.2" cy="126.9" r="1.85" fill="#00cc00"/><circle cx="410.2" cy="130.1" r="1.85" fill="#00cc00"/><circle cx="413.1" cy="129.2" r="1.85" fill="#00cc00"/><circle cx="409.8" cy="127.4" r="1.85" fill="#00cc00"/><circle cx="408.6" cy="127.1" r="1.85" fill="#10d010"/><circle cx="412.1" cy="124.9" r="1.85" fill="#10d010"/><circle cx="411.9" cy="131.3" r="1.85" fill="#10d010"/><circle cx="409.2" cy="133.3" r="1.85" fill="#10d010"/><circle cx="412.7" cy="127.2" r="1.85" fill="#10d010"/><circle cx="412.0" cy="126.6" r="1.85" fill="#10d010"/><circle cx="411.6" cy="129.6" r="1.85" fill="#80dc20"/><circle cx="412.3" cy="127.2" r="1.85" fill="#80dc20"/><circle cx="415.2" cy="128.2" r="1.85" fill="#80dc20"/><circle cx="411.8" cy="125.9" r="1.85" fill="#80dc20"/><circle cx="412.8" cy="127.2" r="1.85" fill="#80dc20"/><circle cx="413.8" cy="129.0" r="1.85" fill="#a8e418"/><circle cx="413.0" cy="128.4" r="1.85" fill="#a8e418"/><circle cx="415.1" cy="127.4" r="1.85" fill="#a8e418"/><circle cx="415.5" cy="122.7" r="1.85" fill="#a8e418"/><circle cx="413.1" cy="125.2" r="1.85" fill="#a8e418"/><circle cx="416.7" cy="131.2" r="1.85" fill="#d0f000"/><circle cx="412.4" cy="127.5" r="1.85" fill="#d0f000"/><circle cx="416.0" cy="126.4" r="1.85" fill="#d0f000"/><circle cx="415.2" cy="123.3" r="1.85" fill="#d0f000"/><circle cx="416.0" cy="124.1" r="1.85" fill="#d0f000"/><circle cx="414.8" cy="128.0" r="1.85" fill="#f4f800"/><circle cx="416.1" cy="124.5" r="1.85" fill="#f4f800"/><circle cx="415.1" cy="126.2" r="1.85" fill="#f4f800"/><circle cx="416.5" cy="125.5" r="1.85" fill="#f4f800"/><circle cx="413.5" cy="122.5" r="1.85" fill="#f4f800"/><circle cx="419.1" cy="124.9" r="1.85" fill="#ffe800"/><circle cx="414.4" cy="123.6" r="1.85" fill="#ffe800"/><circle cx="416.4" cy="125.0" r="1.85" fill="#ffe800"/><circle cx="416.4" cy="128.9" r="1.85" fill="#ffe800"/><circle cx="418.5" cy="124.1" r="1.85" fill="#ffe800"/><circle cx="419.2" cy="124.9" r="1.85" fill="#ffdc00"/><circle cx="420.3" cy="124.2" r="1.85" fill="#ffdc00"/><circle cx="422.1" cy="126.2" r="1.85" fill="#ffdc00"/><circle cx="418.4" cy="123.9" r="1.85" fill="#ffdc00"/><circle cx="418.1" cy="124.5" r="1.85" fill="#ffdc00"/><circle cx="418.7" cy="124.7" r="1.85" fill="#ffcc00"/><circle cx="420.7" cy="124.8" r="1.85" fill="#ffcc00"/><circle cx="419.5" cy="126.6" r="1.85" fill="#ffcc00"/><circle cx="419.7" cy="123.9" r="1.85" fill="#ffcc00"/><circle cx="418.0" cy="120.8" r="1.85" fill="#ffcc00"/><circle cx="419.4" cy="120.5" r="1.85" fill="#ffbc00"/><circle cx="422.3" cy="122.8" r="1.85" fill="#ffbc00"/><circle cx="423.7" cy="123.4" r="1.85" fill="#ffbc00"/><circle cx="423.4" cy="125.2" r="1.85" fill="#ffbc00"/><circle cx="422.7" cy="125.8" r="1.85" fill="#ffbc00"/><circle cx="421.7" cy="123.6" r="1.85" fill="#ffae00"/><circle cx="421.4" cy="124.4" r="1.85" fill="#ffae00"/><circle cx="422.5" cy="121.6" r="1.85" fill="#ffae00"/><circle cx="420.6" cy="123.6" r="1.85" fill="#ffae00"/><circle cx="423.0" cy="122.1" r="1.85" fill="#ffae00"/><circle cx="420.9" cy="122.0" r="1.85" fill="#ffa000"/><circle cx="420.4" cy="118.1" r="1.85" fill="#ffa000"/><circle cx="423.9" cy="125.0" r="1.85" fill="#ffa000"/><circle cx="421.7" cy="122.6" r="1.85" fill="#ffa000"/><circle cx="426.7" cy="121.9" r="1.85" fill="#ffa000"/><circle cx="425.2" cy="120.9" r="1.85" fill="#ff9000"/><circle cx="425.2" cy="127.4" r="1.85" fill="#ff9000"/><circle cx="425.3" cy="121.7" r="1.85" fill="#ff9000"/><circle cx="427.8" cy="121.5" r="1.85" fill="#ff9000"/><circle cx="424.3" cy="119.3" r="1.85" fill="#ff9000"/><circle cx="425.2" cy="120.9" r="1.85" fill="#ff8000"/><circle cx="424.1" cy="119.9" r="1.85" fill="#ff8000"/><circle cx="424.6" cy="121.3" r="1.85" fill="#ff8000"/><circle cx="425.8" cy="121.8" r="1.85" fill="#ff8000"/><circle cx="428.0" cy="120.4" r="1.85" fill="#ff8000"/><circle cx="427.9" cy="123.1" r="1.85" fill="#ff6c00"/><circle cx="426.2" cy="117.5" r="1.85" fill="#ff6c00"/><circle cx="426.0" cy="121.2" r="1.85" fill="#ff6c00"/><circle cx="426.5" cy="122.1" r="1.85" fill="#ff6c00"/><circle cx="423.1" cy="118.2" r="1.85" fill="#ff6c00"/><circle cx="429.1" cy="120.4" r="1.85" fill="#ff5400"/><circle cx="425.4" cy="121.3" r="1.85" fill="#ff5400"/><circle cx="428.4" cy="117.1" r="1.85" fill="#ff5400"/><circle cx="425.1" cy="118.6" r="1.85" fill="#ff5400"/><circle cx="425.1" cy="117.5" r="1.85" fill="#ff5400"/><circle cx="426.2" cy="117.6" r="1.85" fill="#ff3c00"/><circle cx="430.3" cy="123.3" r="1.85" fill="#ff3c00"/><circle cx="427.8" cy="121.7" r="1.85" fill="#ff3c00"/><circle cx="428.1" cy="114.7" r="1.85" fill="#ff3c00"/><circle cx="428.9" cy="119.2" r="1.85" fill="#ff3c00"/><circle cx="429.2" cy="120.8" r="1.85" fill="#ff2000"/><circle cx="428.8" cy="120.0" r="1.85" fill="#ff2000"/><circle cx="428.6" cy="119.1" r="1.85" fill="#ff2000"/><circle cx="430.4" cy="123.3" r="1.85" fill="#ff2000"/><circle cx="428.5" cy="117.1" r="1.85" fill="#ff2000"/><circle cx="429.0" cy="117.8" r="1.85" fill="#ff0000"/><circle cx="430.1" cy="121.2" r="1.85" fill="#ff0000"/></g>
<line x1="298.2" y1="153.2" x2="444.4" y2="57.6" stroke="#333" stroke-width="0.75"/>
<line x1="297.8" y1="189.1" x2="431" y2="118.1" stroke="#333" stroke-width="0.75"/>
<g fill="none" stroke-width="1.1"><circle cx="148.2" cy="325.2" r="2.2" stroke="#18aaf2"/><circle cx="124.1" cy="347.9" r="2.2" stroke="#18aaf2"/><circle cx="189.6" cy="342.4" r="2.2" stroke="#00d0f8"/><circle cx="207.0" cy="369.4" r="2.2" stroke="#00d0f8"/><circle cx="97.3" cy="380.7" r="2.2" stroke="#00d0f8"/><circle cx="115.2" cy="382.0" r="2.2" stroke="#00d0f8"/><circle cx="137.3" cy="374.0" r="2.2" stroke="#00d0f8"/><circle cx="166.5" cy="385.5" r="2.2" stroke="#00d0f8"/><circle cx="173.4" cy="388.6" r="2.2" stroke="#00d0f8"/><circle cx="85.0" cy="392.4" r="2.2" stroke="#00d0f8"/><circle cx="110.9" cy="389.0" r="2.2" stroke="#00d0f8"/><circle cx="121.3" cy="393.0" r="2.2" stroke="#00d0f8"/><circle cx="135.4" cy="386.1" r="2.2" stroke="#00d0f8"/><circle cx="130.3" cy="389.5" r="2.2" stroke="#00d0f8"/><circle cx="132.6" cy="390.9" r="2.2" stroke="#00ecf0"/><circle cx="94.1" cy="405.9" r="2.2" stroke="#00ecf0"/><circle cx="118.1" cy="408.1" r="2.2" stroke="#00ecf0"/><circle cx="96.8" cy="419.9" r="2.2" stroke="#00ecf0"/><circle cx="84.3" cy="430.6" r="2.2" stroke="#00ecf0"/><circle cx="124.0" cy="421.3" r="2.2" stroke="#00ecf0"/><circle cx="131.8" cy="398.7" r="2.2" stroke="#00ecf0"/><circle cx="132.9" cy="401.2" r="2.2" stroke="#00ecf0"/><circle cx="124.4" cy="421.5" r="2.2" stroke="#00ecf0"/><circle cx="119.6" cy="411.8" r="2.2" stroke="#00e6cc"/><circle cx="131.7" cy="398.0" r="2.2" stroke="#00e6cc"/><circle cx="133.2" cy="401.5" r="2.2" stroke="#00e6cc"/><circle cx="94.1" cy="411.0" r="2.2" stroke="#00e6cc"/><circle cx="124.0" cy="411.8" r="2.2" stroke="#00e0a8"/><circle cx="124.0" cy="414.0" r="2.2" stroke="#00e0a8"/><circle cx="118.1" cy="433.1" r="2.2" stroke="#00e0a8"/><circle cx="143.5" cy="405.0" r="2.2" stroke="#00e0a8"/><circle cx="157.9" cy="400.1" r="2.2" stroke="#00e0a8"/><circle cx="155.3" cy="405.3" r="2.2" stroke="#00e0a8"/><circle cx="152.4" cy="408.2" r="2.2" stroke="#00e0a8"/><circle cx="172.2" cy="402.1" r="2.2" stroke="#00e0a8"/><circle cx="174.4" cy="401.6" r="2.2" stroke="#00e0a8"/><circle cx="123.7" cy="411.9" r="2.2" stroke="#00e0a8"/><circle cx="123.7" cy="414.1" r="2.2" stroke="#00e0a8"/><circle cx="107.1" cy="417.6" r="2.2" stroke="#00d888"/><circle cx="110.7" cy="417.9" r="2.2" stroke="#00d888"/><circle cx="121.5" cy="427.4" r="2.2" stroke="#00d888"/><circle cx="109.3" cy="404.4" r="2.2" stroke="#00d068"/><circle cx="163.4" cy="402.6" r="2.2" stroke="#00d068"/><circle cx="183.2" cy="400.6" r="2.2" stroke="#00c840"/><circle cx="91.6" cy="421.8" r="2.2" stroke="#00c420"/><circle cx="100.4" cy="419.9" r="2.2" stroke="#00c420"/><circle cx="99.0" cy="422.8" r="2.2" stroke="#00c420"/><circle cx="189.1" cy="399.4" r="2.2" stroke="#00c420"/><circle cx="132.5" cy="414.1" r="2.2" stroke="#00c420"/><circle cx="136.9" cy="414.9" r="2.2" stroke="#00c420"/><circle cx="140.6" cy="416.3" r="2.2" stroke="#00c420"/><circle cx="95.3" cy="424.7" r="2.2" stroke="#00c800"/><circle cx="90.1" cy="433.8" r="2.2" stroke="#00c800"/><circle cx="112.2" cy="423.5" r="2.2" stroke="#00c800"/><circle cx="118.8" cy="422.8" r="2.2" stroke="#00c800"/><circle cx="153.1" cy="417.8" r="2.2" stroke="#00c800"/><circle cx="153.1" cy="420.0" r="2.2" stroke="#00c800"/><circle cx="118.1" cy="427.2" r="2.2" stroke="#00cc00"/><circle cx="134.0" cy="423.0" r="2.2" stroke="#00cc00"/><circle cx="130.3" cy="428.1" r="2.2" stroke="#00cc00"/><circle cx="129.6" cy="431.0" r="2.2" stroke="#00cc00"/><circle cx="142.1" cy="425.9" r="2.2" stroke="#80dc20"/><circle cx="103.4" cy="434.1" r="2.2" stroke="#a8e418"/><circle cx="107.1" cy="435.3" r="2.2" stroke="#a8e418"/><circle cx="134.0" cy="431.0" r="2.2" stroke="#a8e418"/><circle cx="95.3" cy="435.0" r="2.2" stroke="#f4f800"/><circle cx="121.0" cy="428.7" r="2.2" stroke="#f4f800"/><circle cx="121.8" cy="432.4" r="2.2" stroke="#f4f800"/><circle cx="114.4" cy="437.5" r="2.2" stroke="#f4f800"/><circle cx="76.5" cy="452.6" r="2.2" stroke="#f4f800"/><circle cx="139.1" cy="425.9" r="2.2" stroke="#f4f800"/><circle cx="137.6" cy="430.3" r="2.2" stroke="#f4f800"/><circle cx="143.5" cy="431.0" r="2.2" stroke="#f4f800"/><circle cx="100.4" cy="437.5" r="2.2" stroke="#ffe800"/><circle cx="118.8" cy="439.4" r="2.2" stroke="#ffe800"/><circle cx="179.6" cy="417.8" r="2.2" stroke="#ffe800"/><circle cx="189.1" cy="421.2" r="2.2" stroke="#ffe800"/><circle cx="146.5" cy="423.7" r="2.2" stroke="#ffe800"/><circle cx="164.1" cy="425.1" r="2.2" stroke="#ffe800"/><circle cx="155.3" cy="429.6" r="2.2" stroke="#ffe800"/><circle cx="139.9" cy="439.1" r="2.2" stroke="#ffe800"/><circle cx="130.3" cy="437.6" r="2.2" stroke="#ffe800"/><circle cx="106.3" cy="442.9" r="2.2" stroke="#ffdc00"/><circle cx="159.0" cy="427.4" r="2.2" stroke="#ffcc00"/><circle cx="110.7" cy="433.8" r="2.2" stroke="#ffbc00"/><circle cx="178.1" cy="425.9" r="2.2" stroke="#ffbc00"/><circle cx="163.4" cy="432.5" r="2.2" stroke="#ffbc00"/><circle cx="111.5" cy="443.4" r="2.2" stroke="#ffae00"/><circle cx="95.3" cy="451.8" r="2.2" stroke="#ffae00"/><circle cx="148.7" cy="428.1" r="2.2" stroke="#ffae00"/><circle cx="154.6" cy="425.1" r="2.2" stroke="#ffae00"/><circle cx="167.8" cy="422.2" r="2.2" stroke="#ffae00"/><circle cx="170.0" cy="425.9" r="2.2" stroke="#ffae00"/><circle cx="170.7" cy="427.4" r="2.2" stroke="#ffae00"/><circle cx="120.7" cy="434.7" r="2.2" stroke="#ffae00"/><circle cx="118.8" cy="446.3" r="2.2" stroke="#ffa000"/><circle cx="144.3" cy="434.7" r="2.2" stroke="#ffa000"/><circle cx="149.4" cy="431.8" r="2.2" stroke="#ffa000"/><circle cx="140.6" cy="436.9" r="2.2" stroke="#ffa000"/><circle cx="115.9" cy="440.4" r="2.2" stroke="#ff5400"/><circle cx="123.2" cy="438.2" r="2.2" stroke="#ff5400"/><circle cx="147.9" cy="434.7" r="2.2" stroke="#ff5400"/><circle cx="146.5" cy="438.4" r="2.2" stroke="#ff5400"/><circle cx="153.8" cy="434.0" r="2.2" stroke="#ff5400"/><circle cx="136.9" cy="435.4" r="2.2" stroke="#ff5400"/><circle cx="196.5" cy="426.8" r="2.2" stroke="#ff5400"/><circle cx="125.4" cy="441.5" r="2.2" stroke="#ff3c00"/><circle cx="113.7" cy="447.1" r="2.2" stroke="#ff3c00"/><circle cx="125.9" cy="438.4" r="2.2" stroke="#ff3c00"/><circle cx="125.9" cy="442.1" r="2.2" stroke="#ff3c00"/><circle cx="132.5" cy="442.1" r="2.2" stroke="#ff3c00"/><circle cx="116.6" cy="447.1" r="2.2" stroke="#ff2000"/></g>
<g><circle cx="184.3" cy="327.6" r="1.85" fill="#1a8cf0"/><circle cx="185.1" cy="338.2" r="1.85" fill="#1a8cf0"/><circle cx="186.7" cy="345.1" r="1.85" fill="#18aaf2"/><circle cx="175.1" cy="346.4" r="1.85" fill="#18aaf2"/><circle cx="163.3" cy="352.4" r="1.85" fill="#18aaf2"/><circle cx="163.1" cy="352.1" r="1.85" fill="#18aaf2"/><circle cx="167.5" cy="350.8" r="1.85" fill="#18aaf2"/><circle cx="165.7" cy="353.7" r="1.85" fill="#18aaf2"/><circle cx="167.8" cy="351.0" r="1.85" fill="#18aaf2"/><circle cx="166.5" cy="354.0" r="1.85" fill="#18aaf2"/><circle cx="169.6" cy="355.2" r="1.85" fill="#00d0f8"/><circle cx="169.9" cy="355.3" r="1.85" fill="#00d0f8"/><circle cx="169.3" cy="359.3" r="1.85" fill="#00d0f8"/><circle cx="165.2" cy="360.3" r="1.85" fill="#00d0f8"/><circle cx="173.4" cy="360.3" r="1.85" fill="#00d0f8"/><circle cx="165.2" cy="360.5" r="1.85" fill="#00d0f8"/><circle cx="168.9" cy="359.5" r="1.85" fill="#00d0f8"/><circle cx="176.6" cy="359.0" r="1.85" fill="#00ecf0"/><circle cx="179.1" cy="359.6" r="1.85" fill="#00ecf0"/><circle cx="174.7" cy="360.0" r="1.85" fill="#00ecf0"/><circle cx="178.9" cy="359.5" r="1.85" fill="#00ecf0"/><circle cx="185.4" cy="356.2" r="1.85" fill="#00ecf0"/><circle cx="185.2" cy="356.3" r="1.85" fill="#00ecf0"/><circle cx="164.6" cy="364.0" r="1.85" fill="#00ecf0"/><circle cx="170.9" cy="363.4" r="1.85" fill="#00ecf0"/><circle cx="164.2" cy="364.2" r="1.85" fill="#00ecf0"/><circle cx="174.0" cy="362.8" r="1.85" fill="#00e6cc"/><circle cx="177.8" cy="364.0" r="1.85" fill="#00e6cc"/><circle cx="167.8" cy="365.8" r="1.85" fill="#00e6cc"/><circle cx="171.5" cy="364.7" r="1.85" fill="#00e6cc"/><circle cx="175.7" cy="363.1" r="1.85" fill="#00e6cc"/><circle cx="177.8" cy="365.8" r="1.85" fill="#00e6cc"/><circle cx="173.4" cy="364.1" r="1.85" fill="#00e6cc"/><circle cx="153.7" cy="370.5" r="1.85" fill="#00e6cc"/><circle cx="161.0" cy="369.4" r="1.85" fill="#00e6cc"/><circle cx="166.3" cy="368.4" r="1.85" fill="#00e6cc"/><circle cx="165.1" cy="366.4" r="1.85" fill="#00e0a8"/><circle cx="171.5" cy="367.9" r="1.85" fill="#00e0a8"/><circle cx="166.5" cy="367.2" r="1.85" fill="#00e0a8"/><circle cx="170.3" cy="366.6" r="1.85" fill="#00e0a8"/><circle cx="153.9" cy="370.4" r="1.85" fill="#00e0a8"/><circle cx="172.6" cy="364.9" r="1.85" fill="#00e0a8"/><circle cx="161.4" cy="369.7" r="1.85" fill="#00d888"/><circle cx="172.0" cy="368.2" r="1.85" fill="#00d888"/><circle cx="175.9" cy="367.3" r="1.85" fill="#00d888"/><circle cx="166.3" cy="370.1" r="1.85" fill="#00d068"/><circle cx="161.6" cy="370.5" r="1.85" fill="#00c840"/><circle cx="181.6" cy="367.2" r="1.85" fill="#00c840"/><circle cx="181.5" cy="367.9" r="1.85" fill="#00c840"/><circle cx="172.6" cy="371.5" r="1.85" fill="#00c840"/><circle cx="150.9" cy="374.5" r="1.85" fill="#00c840"/><circle cx="169.0" cy="371.2" r="1.85" fill="#00c420"/><circle cx="176.6" cy="369.7" r="1.85" fill="#00c420"/><circle cx="158.3" cy="372.2" r="1.85" fill="#00c420"/><circle cx="174.7" cy="370.0" r="1.85" fill="#00c420"/><circle cx="177.3" cy="373.1" r="1.85" fill="#00c420"/><circle cx="169.4" cy="372.0" r="1.85" fill="#00c420"/><circle cx="158.4" cy="372.6" r="1.85" fill="#00c420"/><circle cx="173.7" cy="370.2" r="1.85" fill="#00c420"/><circle cx="157.7" cy="374.8" r="1.85" fill="#00c800"/><circle cx="172.8" cy="371.0" r="1.85" fill="#00c800"/><circle cx="161.0" cy="374.2" r="1.85" fill="#00c800"/><circle cx="169.7" cy="372.7" r="1.85" fill="#00c800"/><circle cx="158.1" cy="374.7" r="1.85" fill="#00cc00"/><circle cx="177.2" cy="373.5" r="1.85" fill="#00cc00"/><circle cx="169.0" cy="372.4" r="1.85" fill="#00cc00"/><circle cx="161.5" cy="369.7" r="1.85" fill="#10d010"/><circle cx="179.0" cy="369.9" r="1.85" fill="#10d010"/><circle cx="159.5" cy="377.6" r="1.85" fill="#80dc20"/><circle cx="171.3" cy="371.4" r="1.85" fill="#a8e418"/><circle cx="171.6" cy="377.1" r="1.85" fill="#a8e418"/><circle cx="167.9" cy="374.4" r="1.85" fill="#d0f000"/><circle cx="171.5" cy="375.2" r="1.85" fill="#d0f000"/><circle cx="174.1" cy="375.2" r="1.85" fill="#d0f000"/><circle cx="164.1" cy="380.0" r="1.85" fill="#d0f000"/><circle cx="173.4" cy="374.8" r="1.85" fill="#f4f800"/><circle cx="165.2" cy="375.4" r="1.85" fill="#f4f800"/><circle cx="155.8" cy="376.7" r="1.85" fill="#f4f800"/><circle cx="166.3" cy="375.2" r="1.85" fill="#f4f800"/><circle cx="155.8" cy="376.3" r="1.85" fill="#f4f800"/><circle cx="161.5" cy="375.2" r="1.85" fill="#f4f800"/><circle cx="159.3" cy="375.4" r="1.85" fill="#ffe800"/><circle cx="149.5" cy="377.9" r="1.85" fill="#ffe800"/><circle cx="145.7" cy="380.4" r="1.85" fill="#ffe800"/><circle cx="149.5" cy="378.4" r="1.85" fill="#ffe800"/><circle cx="145.8" cy="380.5" r="1.85" fill="#ffe800"/><circle cx="167.2" cy="377.0" r="1.85" fill="#ffe800"/><circle cx="159.0" cy="378.2" r="1.85" fill="#ffdc00"/><circle cx="155.1" cy="373.5" r="1.85" fill="#ffdc00"/><circle cx="172.9" cy="380.3" r="1.85" fill="#ffcc00"/><circle cx="167.6" cy="381.4" r="1.85" fill="#ffbc00"/><circle cx="170.3" cy="376.0" r="1.85" fill="#ffbc00"/><circle cx="169.9" cy="376.3" r="1.85" fill="#ffbc00"/><circle cx="164.2" cy="376.8" r="1.85" fill="#ffbc00"/><circle cx="155.7" cy="382.6" r="1.85" fill="#ffbc00"/><circle cx="151.6" cy="379.9" r="1.85" fill="#ffae00"/><circle cx="150.7" cy="381.1" r="1.85" fill="#ffae00"/><circle cx="169.9" cy="381.0" r="1.85" fill="#ffae00"/><circle cx="155.8" cy="380.8" r="1.85" fill="#ffae00"/><circle cx="170.3" cy="381.1" r="1.85" fill="#ffa000"/><circle cx="161.8" cy="385.3" r="1.85" fill="#ffa000"/><circle cx="149.6" cy="379.8" r="1.85" fill="#ff9000"/><circle cx="162.0" cy="382.5" r="1.85" fill="#ff9000"/><circle cx="164.3" cy="380.1" r="1.85" fill="#ff8000"/><circle cx="166.3" cy="379.4" r="1.85" fill="#ff8000"/><circle cx="161.0" cy="381.4" r="1.85" fill="#ff8000"/><circle cx="160.0" cy="379.4" r="1.85" fill="#ff6c00"/><circle cx="164.2" cy="380.5" r="1.85" fill="#ff6c00"/><circle cx="146.7" cy="382.4" r="1.85" fill="#ff6c00"/><circle cx="147.1" cy="382.6" r="1.85" fill="#ff5400"/><circle cx="146.3" cy="382.3" r="1.85" fill="#ff5400"/><circle cx="166.5" cy="379.8" r="1.85" fill="#ff5400"/><circle cx="154.7" cy="382.0" r="1.85" fill="#ff5400"/><circle cx="162.1" cy="381.5" r="1.85" fill="#ff5400"/><circle cx="152.6" cy="381.0" r="1.85" fill="#ff5400"/><circle cx="154.2" cy="381.2" r="1.85" fill="#ff5400"/><circle cx="170.9" cy="384.5" r="1.85" fill="#ff3c00"/><circle cx="155.1" cy="380.4" r="1.85" fill="#ff3c00"/><circle cx="157.7" cy="382.3" r="1.85" fill="#ff3c00"/><circle cx="153.2" cy="383.6" r="1.85" fill="#ff3c00"/><circle cx="146.8" cy="382.0" r="1.85" fill="#ff3c00"/><circle cx="158.4" cy="381.5" r="1.85" fill="#ff3c00"/><circle cx="159.9" cy="382.3" r="1.85" fill="#ff3c00"/><circle cx="160.8" cy="380.4" r="1.85" fill="#ff2000"/><circle cx="163.3" cy="381.7" r="1.85" fill="#ff2000"/><circle cx="156.4" cy="384.2" r="1.85" fill="#ff2000"/><circle cx="164.0" cy="384.2" r="1.85" fill="#ff2000"/><circle cx="150.5" cy="383.6" r="1.85" fill="#ff2000"/><circle cx="156.8" cy="383.6" r="1.85" fill="#ff2000"/><circle cx="161.0" cy="383.6" r="1.85" fill="#ff2000"/><circle cx="164.2" cy="383.6" r="1.85" fill="#ff2000"/><circle cx="152.2" cy="383.9" r="1.85" fill="#ff2000"/><circle cx="161.1" cy="379.9" r="1.85" fill="#ff0000"/></g>
<line x1="76.5" y1="434.6" x2="207" y2="404.5" stroke="#333" stroke-width="0.75"/>
<line x1="146.3" y1="386.1" x2="186.7" y2="358.4" stroke="#333" stroke-width="0.75"/>
<g fill="none" stroke-width="1.1"><circle cx="323.6" cy="420.2" r="2.2" stroke="#1a8cf0"/><circle cx="341.4" cy="403.4" r="2.2" stroke="#18aaf2"/><circle cx="341.4" cy="410.6" r="2.2" stroke="#18aaf2"/><circle cx="353.8" cy="379.7" r="2.2" stroke="#00d0f8"/><circle cx="353.3" cy="384.8" r="2.2" stroke="#00d0f8"/><circle cx="361.5" cy="383.3" r="2.2" stroke="#00d0f8"/><circle cx="362.8" cy="368.6" r="2.2" stroke="#00ecf0"/><circle cx="370.5" cy="368.6" r="2.2" stroke="#00ecf0"/><circle cx="378.4" cy="340.8" r="2.2" stroke="#00ecf0"/><circle cx="370.2" cy="347.1" r="2.2" stroke="#00ecf0"/><circle cx="370.8" cy="352.2" r="2.2" stroke="#00ecf0"/><circle cx="378.4" cy="352.2" r="2.2" stroke="#00ecf0"/><circle cx="380.9" cy="354.7" r="2.2" stroke="#00ecf0"/><circle cx="375.9" cy="355.3" r="2.2" stroke="#00ecf0"/><circle cx="379.6" cy="361.0" r="2.2" stroke="#00ecf0"/><circle cx="362.6" cy="368.5" r="2.2" stroke="#00ecf0"/><circle cx="370.2" cy="368.5" r="2.2" stroke="#00ecf0"/><circle cx="354.4" cy="378.6" r="2.2" stroke="#00ecf0"/><circle cx="373.9" cy="371.5" r="2.2" stroke="#00e6cc"/><circle cx="380.0" cy="340.4" r="2.2" stroke="#00e6cc"/><circle cx="384.7" cy="332.6" r="2.2" stroke="#00e6cc"/><circle cx="393.5" cy="349.6" r="2.2" stroke="#00e6cc"/><circle cx="384.7" cy="355.3" r="2.2" stroke="#00e6cc"/><circle cx="374.0" cy="371.1" r="2.2" stroke="#00e6cc"/><circle cx="375.2" cy="360.4" r="2.2" stroke="#00e0a8"/><circle cx="381.9" cy="325.9" r="2.2" stroke="#00d888"/><circle cx="385.7" cy="329.7" r="2.2" stroke="#00d888"/><circle cx="387.6" cy="336.6" r="2.2" stroke="#00d888"/><circle cx="395.1" cy="341.7" r="2.2" stroke="#00d888"/><circle cx="386.6" cy="329.5" r="2.2" stroke="#00d888"/><circle cx="389.1" cy="337.7" r="2.2" stroke="#00d888"/><circle cx="381.5" cy="326.3" r="2.2" stroke="#00d068"/><circle cx="397.2" cy="335.7" r="2.2" stroke="#00d068"/><circle cx="383.4" cy="347.7" r="2.2" stroke="#00c420"/><circle cx="390.4" cy="349.0" r="2.2" stroke="#00c420"/><circle cx="393.9" cy="324.6" r="2.2" stroke="#00c800"/><circle cx="396.4" cy="327.8" r="2.2" stroke="#00c800"/><circle cx="392.6" cy="329.0" r="2.2" stroke="#00c800"/><circle cx="395.1" cy="332.8" r="2.2" stroke="#00c800"/><circle cx="392.0" cy="337.9" r="2.2" stroke="#00c800"/><circle cx="407.1" cy="337.9" r="2.2" stroke="#00c800"/><circle cx="388.5" cy="340.2" r="2.2" stroke="#00c800"/><circle cx="392.9" cy="327.6" r="2.2" stroke="#00c800"/><circle cx="395.4" cy="325.0" r="2.2" stroke="#00c800"/><circle cx="405.5" cy="342.1" r="2.2" stroke="#00c800"/><circle cx="407.4" cy="337.7" r="2.2" stroke="#00c800"/><circle cx="387.8" cy="347.7" r="2.2" stroke="#00c800"/><circle cx="387.8" cy="352.2" r="2.2" stroke="#00c800"/><circle cx="399.2" cy="358.5" r="2.2" stroke="#00c800"/><circle cx="397.7" cy="336.6" r="2.2" stroke="#00cc00"/><circle cx="394.8" cy="334.5" r="2.2" stroke="#00cc00"/><circle cx="396.0" cy="357.8" r="2.2" stroke="#10d010"/><circle cx="400.9" cy="337.3" r="2.2" stroke="#10d010"/><circle cx="397.6" cy="336.0" r="2.2" stroke="#10d010"/><circle cx="398.9" cy="329.0" r="2.2" stroke="#80dc20"/><circle cx="390.1" cy="332.8" r="2.2" stroke="#80dc20"/><circle cx="387.2" cy="334.5" r="2.2" stroke="#80dc20"/><circle cx="397.9" cy="328.8" r="2.2" stroke="#80dc20"/><circle cx="397.3" cy="336.4" r="2.2" stroke="#80dc20"/><circle cx="394.1" cy="340.8" r="2.2" stroke="#80dc20"/><circle cx="375.2" cy="344.6" r="2.2" stroke="#80dc20"/><circle cx="392.9" cy="354.0" r="2.2" stroke="#80dc20"/><circle cx="400.6" cy="329.2" r="2.2" stroke="#80dc20"/><circle cx="403.4" cy="329.7" r="2.2" stroke="#a8e418"/><circle cx="399.5" cy="317.7" r="2.2" stroke="#a8e418"/><circle cx="401.4" cy="322.1" r="2.2" stroke="#a8e418"/><circle cx="391.6" cy="329.3" r="2.2" stroke="#a8e418"/><circle cx="393.8" cy="329.1" r="2.2" stroke="#a8e418"/><circle cx="401.1" cy="330.9" r="2.2" stroke="#d0f000"/><circle cx="404.8" cy="330.2" r="2.2" stroke="#f4f800"/><circle cx="402.7" cy="335.4" r="2.2" stroke="#f4f800"/><circle cx="402.1" cy="342.3" r="2.2" stroke="#f4f800"/><circle cx="407.1" cy="342.3" r="2.2" stroke="#f4f800"/><circle cx="400.4" cy="332.0" r="2.2" stroke="#f4f800"/><circle cx="397.9" cy="341.4" r="2.2" stroke="#f4f800"/><circle cx="401.7" cy="342.1" r="2.2" stroke="#f4f800"/><circle cx="410.3" cy="308.6" r="2.2" stroke="#ffe800"/><circle cx="410.9" cy="333.5" r="2.2" stroke="#ffe800"/><circle cx="414.0" cy="335.4" r="2.2" stroke="#ffe800"/><circle cx="409.0" cy="328.4" r="2.2" stroke="#ffe800"/><circle cx="415.9" cy="303.2" r="2.2" stroke="#ffdc00"/><circle cx="417.3" cy="318.8" r="2.2" stroke="#ffdc00"/><circle cx="399.3" cy="319.5" r="2.2" stroke="#ffcc00"/><circle cx="416.3" cy="325.5" r="2.2" stroke="#ffbc00"/><circle cx="407.1" cy="306.3" r="2.2" stroke="#ffbc00"/><circle cx="394.5" cy="318.3" r="2.2" stroke="#ffbc00"/><circle cx="403.7" cy="325.8" r="2.2" stroke="#ffbc00"/><circle cx="409.0" cy="313.9" r="2.2" stroke="#ffae00"/><circle cx="407.1" cy="332.2" r="2.2" stroke="#ffae00"/><circle cx="422.6" cy="313.5" r="2.2" stroke="#ffae00"/><circle cx="419.1" cy="312.7" r="2.2" stroke="#ffa000"/><circle cx="405.2" cy="318.3" r="2.2" stroke="#ffa000"/><circle cx="417.8" cy="315.8" r="2.2" stroke="#ffa000"/><circle cx="414.0" cy="322.1" r="2.2" stroke="#ffa000"/><circle cx="416.1" cy="327.5" r="2.2" stroke="#ffa000"/><circle cx="399.7" cy="322.3" r="2.2" stroke="#ff9000"/><circle cx="402.7" cy="314.5" r="2.2" stroke="#ff9000"/><circle cx="417.8" cy="320.9" r="2.2" stroke="#ff9000"/><circle cx="397.0" cy="320.4" r="2.2" stroke="#ff8000"/><circle cx="429.2" cy="308.6" r="2.2" stroke="#ff8000"/><circle cx="420.4" cy="330.3" r="2.2" stroke="#ff8000"/><circle cx="425.0" cy="317.0" r="2.2" stroke="#ff8000"/><circle cx="418.0" cy="308.1" r="2.2" stroke="#ff6c00"/><circle cx="418.5" cy="307.6" r="2.2" stroke="#ff5400"/><circle cx="422.9" cy="311.4" r="2.2" stroke="#ff5400"/><circle cx="429.8" cy="316.4" r="2.2" stroke="#ff5400"/><circle cx="412.8" cy="317.1" r="2.2" stroke="#ff5400"/><circle cx="408.4" cy="316.0" r="2.2" stroke="#ff5400"/><circle cx="414.0" cy="312.7" r="2.2" stroke="#ff3c00"/><circle cx="420.4" cy="318.3" r="2.2" stroke="#ff3c00"/><circle cx="424.1" cy="321.5" r="2.2" stroke="#ff3c00"/><circle cx="409.0" cy="320.2" r="2.2" stroke="#ff3c00"/><circle cx="417.8" cy="324.0" r="2.2" stroke="#ff3c00"/><circle cx="413.4" cy="327.5" r="2.2" stroke="#ff3c00"/></g>
<g><circle cx="326.5" cy="436.1" r="1.85" fill="#1a8cf0"/><circle cx="337.6" cy="429.7" r="1.85" fill="#1a8cf0"/><circle cx="345.8" cy="427.3" r="1.85" fill="#18aaf2"/><circle cx="352.9" cy="415.4" r="1.85" fill="#18aaf2"/><circle cx="357.1" cy="408.2" r="1.85" fill="#18aaf2"/><circle cx="360.5" cy="402.4" r="1.85" fill="#18aaf2"/><circle cx="361.0" cy="401.7" r="1.85" fill="#18aaf2"/><circle cx="365.3" cy="396.7" r="1.85" fill="#18aaf2"/><circle cx="364.7" cy="396.0" r="1.85" fill="#18aaf2"/><circle cx="365.9" cy="401.1" r="1.85" fill="#00d0f8"/><circle cx="365.8" cy="400.4" r="1.85" fill="#00d0f8"/><circle cx="369.5" cy="390.6" r="1.85" fill="#00d0f8"/><circle cx="371.0" cy="393.4" r="1.85" fill="#00d0f8"/><circle cx="370.5" cy="393.3" r="1.85" fill="#00d0f8"/><circle cx="373.9" cy="386.8" r="1.85" fill="#00d0f8"/><circle cx="371.7" cy="394.4" r="1.85" fill="#00d0f8"/><circle cx="375.3" cy="393.3" r="1.85" fill="#00ecf0"/><circle cx="370.3" cy="393.8" r="1.85" fill="#00ecf0"/><circle cx="371.4" cy="393.3" r="1.85" fill="#00ecf0"/><circle cx="372.0" cy="391.2" r="1.85" fill="#00ecf0"/><circle cx="372.7" cy="390.3" r="1.85" fill="#00ecf0"/><circle cx="373.8" cy="390.1" r="1.85" fill="#00e6cc"/><circle cx="375.0" cy="391.3" r="1.85" fill="#00e6cc"/><circle cx="373.8" cy="390.6" r="1.85" fill="#00e6cc"/><circle cx="372.8" cy="390.7" r="1.85" fill="#00e6cc"/><circle cx="377.7" cy="389.0" r="1.85" fill="#00e6cc"/><circle cx="378.3" cy="388.1" r="1.85" fill="#00e0a8"/><circle cx="375.7" cy="388.9" r="1.85" fill="#00e0a8"/><circle cx="374.4" cy="388.5" r="1.85" fill="#00e0a8"/><circle cx="378.5" cy="388.9" r="1.85" fill="#00e0a8"/><circle cx="379.9" cy="388.5" r="1.85" fill="#00e0a8"/><circle cx="373.3" cy="387.8" r="1.85" fill="#00d888"/><circle cx="378.4" cy="387.8" r="1.85" fill="#00d888"/><circle cx="375.3" cy="388.7" r="1.85" fill="#00d888"/><circle cx="380.3" cy="388.7" r="1.85" fill="#00d888"/><circle cx="377.9" cy="386.6" r="1.85" fill="#00d888"/><circle cx="380.3" cy="387.5" r="1.85" fill="#00d068"/><circle cx="377.5" cy="389.6" r="1.85" fill="#00d068"/><circle cx="377.4" cy="388.3" r="1.85" fill="#00d068"/><circle cx="379.7" cy="386.2" r="1.85" fill="#00d068"/><circle cx="377.5" cy="388.9" r="1.85" fill="#00d068"/><circle cx="378.1" cy="388.8" r="1.85" fill="#00c840"/><circle cx="376.7" cy="388.1" r="1.85" fill="#00c840"/><circle cx="378.8" cy="385.8" r="1.85" fill="#00c840"/><circle cx="380.7" cy="385.6" r="1.85" fill="#00c840"/><circle cx="383.3" cy="383.5" r="1.85" fill="#00c840"/><circle cx="381.2" cy="382.8" r="1.85" fill="#00c420"/><circle cx="383.1" cy="384.5" r="1.85" fill="#00c420"/><circle cx="384.2" cy="384.4" r="1.85" fill="#00c420"/><circle cx="378.8" cy="384.6" r="1.85" fill="#00c420"/><circle cx="379.8" cy="384.9" r="1.85" fill="#00c420"/><circle cx="381.8" cy="380.7" r="1.85" fill="#00c800"/><circle cx="382.8" cy="385.0" r="1.85" fill="#00c800"/><circle cx="380.6" cy="382.8" r="1.85" fill="#00c800"/><circle cx="381.5" cy="385.4" r="1.85" fill="#00c800"/><circle cx="383.3" cy="382.5" r="1.85" fill="#00c800"/><circle cx="384.3" cy="384.2" r="1.85" fill="#00cc00"/><circle cx="384.1" cy="385.5" r="1.85" fill="#00cc00"/><circle cx="383.3" cy="386.1" r="1.85" fill="#00cc00"/><circle cx="382.4" cy="385.9" r="1.85" fill="#00cc00"/><circle cx="382.1" cy="381.2" r="1.85" fill="#00cc00"/><circle cx="384.3" cy="382.8" r="1.85" fill="#10d010"/><circle cx="384.7" cy="381.6" r="1.85" fill="#10d010"/><circle cx="383.5" cy="382.0" r="1.85" fill="#10d010"/><circle cx="385.3" cy="382.9" r="1.85" fill="#10d010"/><circle cx="385.6" cy="381.8" r="1.85" fill="#10d010"/><circle cx="385.9" cy="382.7" r="1.85" fill="#80dc20"/><circle cx="389.9" cy="380.4" r="1.85" fill="#80dc20"/><circle cx="382.3" cy="382.1" r="1.85" fill="#80dc20"/><circle cx="383.1" cy="382.3" r="1.85" fill="#80dc20"/><circle cx="387.5" cy="378.2" r="1.85" fill="#80dc20"/><circle cx="385.2" cy="380.6" r="1.85" fill="#a8e418"/><circle cx="381.7" cy="382.2" r="1.85" fill="#a8e418"/><circle cx="383.7" cy="380.8" r="1.85" fill="#a8e418"/><circle cx="384.8" cy="380.5" r="1.85" fill="#a8e418"/><circle cx="384.1" cy="379.2" r="1.85" fill="#a8e418"/><circle cx="387.8" cy="379.4" r="1.85" fill="#d0f000"/><circle cx="384.7" cy="380.6" r="1.85" fill="#d0f000"/><circle cx="383.3" cy="379.3" r="1.85" fill="#d0f000"/><circle cx="386.9" cy="378.5" r="1.85" fill="#d0f000"/><circle cx="389.4" cy="379.7" r="1.85" fill="#d0f000"/><circle cx="383.8" cy="380.2" r="1.85" fill="#f4f800"/><circle cx="387.1" cy="378.2" r="1.85" fill="#f4f800"/><circle cx="385.7" cy="379.8" r="1.85" fill="#f4f800"/><circle cx="386.5" cy="377.3" r="1.85" fill="#f4f800"/><circle cx="388.4" cy="379.9" r="1.85" fill="#f4f800"/><circle cx="386.3" cy="379.2" r="1.85" fill="#ffe800"/><circle cx="389.1" cy="379.0" r="1.85" fill="#ffe800"/><circle cx="389.5" cy="377.7" r="1.85" fill="#ffe800"/><circle cx="389.6" cy="375.7" r="1.85" fill="#ffe800"/><circle cx="390.9" cy="376.6" r="1.85" fill="#ffe800"/><circle cx="386.5" cy="377.2" r="1.85" fill="#ffdc00"/><circle cx="390.8" cy="376.2" r="1.85" fill="#ffdc00"/><circle cx="390.7" cy="378.6" r="1.85" fill="#ffdc00"/><circle cx="388.8" cy="379.0" r="1.85" fill="#ffdc00"/><circle cx="391.5" cy="377.9" r="1.85" fill="#ffdc00"/><circle cx="391.1" cy="378.7" r="1.85" fill="#ffcc00"/><circle cx="388.3" cy="377.9" r="1.85" fill="#ffcc00"/><circle cx="387.5" cy="377.1" r="1.85" fill="#ffcc00"/><circle cx="392.1" cy="375.0" r="1.85" fill="#ffcc00"/><circle cx="389.7" cy="377.1" r="1.85" fill="#ffcc00"/><circle cx="388.6" cy="375.1" r="1.85" fill="#ffbc00"/><circle cx="389.6" cy="377.5" r="1.85" fill="#ffbc00"/><circle cx="388.1" cy="377.8" r="1.85" fill="#ffbc00"/><circle cx="388.8" cy="375.8" r="1.85" fill="#ffbc00"/><circle cx="387.9" cy="377.3" r="1.85" fill="#ffbc00"/><circle cx="391.4" cy="376.1" r="1.85" fill="#ffae00"/><circle cx="388.7" cy="377.9" r="1.85" fill="#ffae00"/><circle cx="390.3" cy="373.1" r="1.85" fill="#ffae00"/><circle cx="389.8" cy="377.6" r="1.85" fill="#ffae00"/><circle cx="392.9" cy="374.7" r="1.85" fill="#ffae00"/><circle cx="394.5" cy="373.5" r="1.85" fill="#ffa000"/><circle cx="393.8" cy="372.9" r="1.85" fill="#ffa000"/><circle cx="391.2" cy="373.7" r="1.85" fill="#ffa000"/><circle cx="392.0" cy="373.9" r="1.85" fill="#ffa000"/><circle cx="392.1" cy="375.6" r="1.85" fill="#ffa000"/><circle cx="392.7" cy="373.1" r="1.85" fill="#ff9000"/><circle cx="393.4" cy="373.8" r="1.85" fill="#ff9000"/><circle cx="393.0" cy="372.4" r="1.85" fill="#ff9000"/><circle cx="393.7" cy="372.1" r="1.85" fill="#ff9000"/><circle cx="393.4" cy="372.3" r="1.85" fill="#ff9000"/><circle cx="395.2" cy="369.0" r="1.85" fill="#ff8000"/><circle cx="394.4" cy="370.6" r="1.85" fill="#ff8000"/><circle cx="395.2" cy="369.3" r="1.85" fill="#ff8000"/><circle cx="395.1" cy="371.4" r="1.85" fill="#ff8000"/><circle cx="394.5" cy="369.8" r="1.85" fill="#ff8000"/><circle cx="394.5" cy="373.0" r="1.85" fill="#ff6c00"/><circle cx="395.4" cy="370.3" r="1.85" fill="#ff6c00"/><circle cx="391.9" cy="374.0" r="1.85" fill="#ff6c00"/><circle cx="394.1" cy="372.7" r="1.85" fill="#ff6c00"/><circle cx="393.7" cy="371.1" r="1.85" fill="#ff6c00"/><circle cx="396.4" cy="372.9" r="1.85" fill="#ff5400"/><circle cx="396.1" cy="370.0" r="1.85" fill="#ff5400"/><circle cx="395.4" cy="368.8" r="1.85" fill="#ff5400"/><circle cx="395.1" cy="371.5" r="1.85" fill="#ff5400"/><circle cx="395.0" cy="370.5" r="1.85" fill="#ff5400"/><circle cx="397.9" cy="372.2" r="1.85" fill="#ff3c00"/><circle cx="396.8" cy="370.8" r="1.85" fill="#ff3c00"/><circle cx="396.9" cy="365.5" r="1.85" fill="#ff3c00"/><circle cx="397.2" cy="371.2" r="1.85" fill="#ff3c00"/><circle cx="394.6" cy="371.4" r="1.85" fill="#ff3c00"/><circle cx="399.2" cy="368.0" r="1.85" fill="#ff2000"/><circle cx="399.6" cy="371.2" r="1.85" fill="#ff2000"/><circle cx="395.9" cy="372.9" r="1.85" fill="#ff2000"/><circle cx="396.3" cy="371.2" r="1.85" fill="#ff2000"/><circle cx="398.9" cy="368.3" r="1.85" fill="#ff2000"/><circle cx="398.5" cy="369.9" r="1.85" fill="#ff0000"/><circle cx="399.7" cy="368.8" r="1.85" fill="#ff0000"/><circle cx="400.5" cy="367.7" r="1.85" fill="#ff0000"/></g>
<line x1="323.6" y1="406.2" x2="430.3" y2="304.2" stroke="#333" stroke-width="0.75"/>
<line x1="327.1" y1="435.5" x2="399.4" y2="367.6" stroke="#333" stroke-width="0.75"/>
<text x="139.5" y="16.8" text-anchor="middle" class="ti">Tropics</text>
<text x="375.7" y="16.8" text-anchor="middle" class="ti" style="font-size:14.5px">Northern high latitudes</text>
<text x="139.5" y="251.0" text-anchor="middle" class="at">TAS Anomalies (K)</text>
<text x="375.7" y="251.0" text-anchor="middle" class="at">TAS Anomalies (K)</text>
<text x="139.5" y="503.7" text-anchor="middle" class="at">Pre Anomalies (mm/day)</text>
<text x="375.7" y="503.7" text-anchor="middle" class="at">Pre Anomalies (mm/day)</text>
<text transform="translate(14,122.95) rotate(-90)" x="0" y="0" text-anchor="middle" class="at">NPP Anomalies (PgC/year)</text>
<text transform="translate(14,375.3) rotate(-90)" x="0" y="0" text-anchor="middle" class="at">NPP Anomalies (PgC/year)</text>
<text x="61.5" y="61.1" style="font-size:20px;stroke-width:0.2px">(a)</text>
<text x="297.7" y="61.1" style="font-size:20px;stroke-width:0.2px">(c)</text>
<text x="61.5" y="313.4" style="font-size:20px;stroke-width:0.2px">(b)</text>
<text x="297.9" y="313.4" style="font-size:20px;stroke-width:0.2px">(d)</text>
<circle cx="133.8" cy="43.1" r="4.0" fill="none" stroke="#000" stroke-width="1.2"/>
<circle cx="133.7" cy="65.4" r="3.6" fill="#000"/>
<text x="144" y="48.6" style="font-size:15.3px">CAS-ESM2</text>
<text x="145.5" y="71.0" style="font-size:15.3px">MME</text>
<rect x="136.20" y="506.6" width="8.12" height="10.40" fill="#1a8cf0"/>
<rect x="143.52" y="506.6" width="8.12" height="10.40" fill="#18aaf2"/>
<rect x="150.85" y="506.6" width="8.12" height="10.40" fill="#00d0f8"/>
<rect x="158.17" y="506.6" width="8.12" height="10.40" fill="#00ecf0"/>
<rect x="165.49" y="506.6" width="8.12" height="10.40" fill="#00e6cc"/>
<rect x="172.82" y="506.6" width="8.12" height="10.40" fill="#00e0a8"/>
<rect x="180.14" y="506.6" width="8.12" height="10.40" fill="#00d888"/>
<rect x="187.46" y="506.6" width="8.12" height="10.40" fill="#00d068"/>
<rect x="194.79" y="506.6" width="8.12" height="10.40" fill="#00c840"/>
<rect x="202.11" y="506.6" width="8.12" height="10.40" fill="#00c420"/>
<rect x="209.43" y="506.6" width="8.12" height="10.40" fill="#00c800"/>
<rect x="216.76" y="506.6" width="8.12" height="10.40" fill="#00cc00"/>
<rect x="224.08" y="506.6" width="8.12" height="10.40" fill="#10d010"/>
<rect x="231.40" y="506.6" width="8.12" height="10.40" fill="#80dc20"/>
<rect x="238.73" y="506.6" width="8.12" height="10.40" fill="#a8e418"/>
<rect x="246.05" y="506.6" width="8.12" height="10.40" fill="#d0f000"/>
<rect x="253.37" y="506.6" width="8.12" height="10.40" fill="#f4f800"/>
<rect x="260.70" y="506.6" width="8.12" height="10.40" fill="#ffe800"/>
<rect x="268.02" y="506.6" width="8.12" height="10.40" fill="#ffdc00"/>
<rect x="275.34" y="506.6" width="8.12" height="10.40" fill="#ffcc00"/>
<rect x="282.67" y="506.6" width="8.12" height="10.40" fill="#ffbc00"/>
<rect x="289.99" y="506.6" width="8.12" height="10.40" fill="#ffae00"/>
<rect x="297.31" y="506.6" width="8.12" height="10.40" fill="#ffa000"/>
<rect x="304.64" y="506.6" width="8.12" height="10.40" fill="#ff9000"/>
<rect x="311.96" y="506.6" width="8.12" height="10.40" fill="#ff8000"/>
<rect x="319.28" y="506.6" width="8.12" height="10.40" fill="#ff6c00"/>
<rect x="326.61" y="506.6" width="8.12" height="10.40" fill="#ff5400"/>
<rect x="333.93" y="506.6" width="8.12" height="10.40" fill="#ff3c00"/>
<rect x="341.25" y="506.6" width="8.12" height="10.40" fill="#ff2000"/>
<rect x="348.58" y="506.6" width="7.32" height="10.40" fill="#ff0000"/>
<text transform="translate(140.16,528.6)" text-anchor="middle" class="tk" style="font-size:11px">0</text>
<text transform="translate(169.45,528.6)" text-anchor="middle" class="tk" style="font-size:11px">20</text>
<text transform="translate(198.75,528.6)" text-anchor="middle" class="tk" style="font-size:11px">40</text>
<text transform="translate(228.04,528.6)" text-anchor="middle" class="tk" style="font-size:11px">60</text>
<text transform="translate(257.33,528.6)" text-anchor="middle" class="tk" style="font-size:11px">80</text>
<text transform="translate(286.63,528.6)" text-anchor="middle" class="tk" style="font-size:11px">100</text>
<text transform="translate(315.92,528.6)" text-anchor="middle" class="tk" style="font-size:11px">120</text>
<text transform="translate(345.21,528.6)" text-anchor="middle" class="tk" style="font-size:11px">140</text>
<text x="246.25" y="540.7" text-anchor="middle" class="at">modeling time (year)</text>
</svg></body></html>
